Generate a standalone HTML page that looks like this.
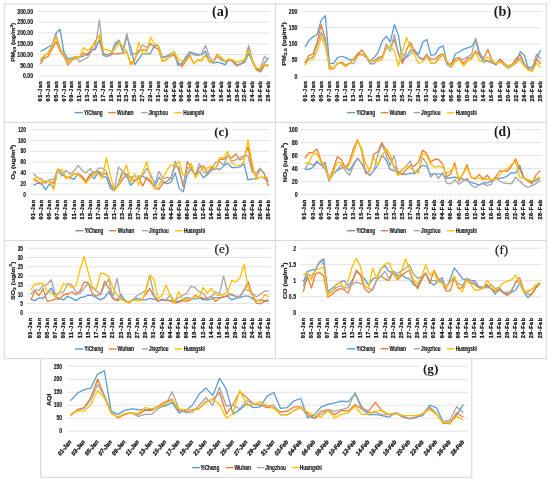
<!DOCTYPE html>
<html><head><meta charset="utf-8"><title>Figure</title>
<style>html,body{margin:0;padding:0;background:#fff;}svg{display:block;}</style></head>
<body><svg width="550" height="483" viewBox="0 0 550 483" font-family="'Liberation Sans', Arial, sans-serif" fill="#1a1a1a" stroke="#1a1a1a" stroke-width="0.18">
<rect width="550" height="483" fill="#fff" stroke="none"/>
<line x1="3.8" y1="4.0" x2="546.8" y2="4.0" stroke="#d6d6d6" stroke-width="1"/>
<line x1="3.8" y1="122.3" x2="546.8" y2="122.3" stroke="#d6d6d6" stroke-width="1"/>
<line x1="3.8" y1="240.6" x2="546.8" y2="240.6" stroke="#d6d6d6" stroke-width="1"/>
<line x1="3.8" y1="358.7" x2="546.8" y2="358.7" stroke="#d6d6d6" stroke-width="1"/>
<line x1="4.3" y1="4.0" x2="4.3" y2="358.7" stroke="#d6d6d6" stroke-width="1"/>
<line x1="275.4" y1="4.0" x2="275.4" y2="358.7" stroke="#d6d6d6" stroke-width="1"/>
<line x1="546.3" y1="4.0" x2="546.3" y2="358.7" stroke="#d6d6d6" stroke-width="1"/>
<line x1="40.6" y1="358.7" x2="40.6" y2="477.3" stroke="#d6d6d6" stroke-width="1"/>
<line x1="471.8" y1="358.7" x2="471.8" y2="477.3" stroke="#d6d6d6" stroke-width="1"/>
<line x1="40.1" y1="477.3" x2="472.3" y2="477.3" stroke="#d6d6d6" stroke-width="1"/>
<line x1="38" y1="76.10" x2="269.8" y2="76.10" stroke="#dcdcdc" stroke-width="0.8"/>
<line x1="38" y1="65.32" x2="269.8" y2="65.32" stroke="#dcdcdc" stroke-width="0.8"/>
<line x1="38" y1="54.53" x2="269.8" y2="54.53" stroke="#dcdcdc" stroke-width="0.8"/>
<line x1="38" y1="43.75" x2="269.8" y2="43.75" stroke="#dcdcdc" stroke-width="0.8"/>
<line x1="38" y1="32.97" x2="269.8" y2="32.97" stroke="#dcdcdc" stroke-width="0.8"/>
<line x1="38" y1="22.18" x2="269.8" y2="22.18" stroke="#dcdcdc" stroke-width="0.8"/>
<line x1="38" y1="11.40" x2="269.8" y2="11.40" stroke="#dcdcdc" stroke-width="0.8"/>
<rect x="209" y="5.300000000000001" width="21" height="13" fill="#fff" stroke="none"/>
<text x="33.0" y="78.30" text-anchor="end" font-size="6.4" font-weight="bold" textLength="9.97" lengthAdjust="spacingAndGlyphs">0.00</text>
<text x="33.0" y="67.52" text-anchor="end" font-size="6.4" font-weight="bold" textLength="12.82" lengthAdjust="spacingAndGlyphs">50.00</text>
<text x="33.0" y="56.73" text-anchor="end" font-size="6.4" font-weight="bold" textLength="15.68" lengthAdjust="spacingAndGlyphs">100.00</text>
<text x="33.0" y="45.95" text-anchor="end" font-size="6.4" font-weight="bold" textLength="15.68" lengthAdjust="spacingAndGlyphs">150.00</text>
<text x="33.0" y="35.17" text-anchor="end" font-size="6.4" font-weight="bold" textLength="15.68" lengthAdjust="spacingAndGlyphs">200.00</text>
<text x="33.0" y="24.38" text-anchor="end" font-size="6.4" font-weight="bold" textLength="15.68" lengthAdjust="spacingAndGlyphs">250.00</text>
<text x="33.0" y="13.60" text-anchor="end" font-size="6.4" font-weight="bold" textLength="15.68" lengthAdjust="spacingAndGlyphs">300.00</text>
<text transform="translate(42.00,81.2) rotate(-90)" text-anchor="end" font-size="5.4" font-weight="bold" stroke-width="0.32" textLength="20.2" lengthAdjust="spacing">01-Jan</text>
<text transform="translate(49.86,81.2) rotate(-90)" text-anchor="end" font-size="5.4" font-weight="bold" stroke-width="0.32" textLength="20.2" lengthAdjust="spacing">03-Jan</text>
<text transform="translate(57.72,81.2) rotate(-90)" text-anchor="end" font-size="5.4" font-weight="bold" stroke-width="0.32" textLength="20.2" lengthAdjust="spacing">05-Jan</text>
<text transform="translate(65.58,81.2) rotate(-90)" text-anchor="end" font-size="5.4" font-weight="bold" stroke-width="0.32" textLength="20.2" lengthAdjust="spacing">07-Jan</text>
<text transform="translate(73.44,81.2) rotate(-90)" text-anchor="end" font-size="5.4" font-weight="bold" stroke-width="0.32" textLength="20.2" lengthAdjust="spacing">09-Jan</text>
<text transform="translate(81.30,81.2) rotate(-90)" text-anchor="end" font-size="5.4" font-weight="bold" stroke-width="0.32" textLength="20.2" lengthAdjust="spacing">11-Jan</text>
<text transform="translate(89.16,81.2) rotate(-90)" text-anchor="end" font-size="5.4" font-weight="bold" stroke-width="0.32" textLength="20.2" lengthAdjust="spacing">13-Jan</text>
<text transform="translate(97.02,81.2) rotate(-90)" text-anchor="end" font-size="5.4" font-weight="bold" stroke-width="0.32" textLength="20.2" lengthAdjust="spacing">15-Jan</text>
<text transform="translate(104.88,81.2) rotate(-90)" text-anchor="end" font-size="5.4" font-weight="bold" stroke-width="0.32" textLength="20.2" lengthAdjust="spacing">17-Jan</text>
<text transform="translate(112.74,81.2) rotate(-90)" text-anchor="end" font-size="5.4" font-weight="bold" stroke-width="0.32" textLength="20.2" lengthAdjust="spacing">19-Jan</text>
<text transform="translate(120.60,81.2) rotate(-90)" text-anchor="end" font-size="5.4" font-weight="bold" stroke-width="0.32" textLength="20.2" lengthAdjust="spacing">21-Jan</text>
<text transform="translate(128.46,81.2) rotate(-90)" text-anchor="end" font-size="5.4" font-weight="bold" stroke-width="0.32" textLength="20.2" lengthAdjust="spacing">23-Jan</text>
<text transform="translate(136.32,81.2) rotate(-90)" text-anchor="end" font-size="5.4" font-weight="bold" stroke-width="0.32" textLength="20.2" lengthAdjust="spacing">25-Jan</text>
<text transform="translate(144.18,81.2) rotate(-90)" text-anchor="end" font-size="5.4" font-weight="bold" stroke-width="0.32" textLength="20.2" lengthAdjust="spacing">27-Jan</text>
<text transform="translate(152.04,81.2) rotate(-90)" text-anchor="end" font-size="5.4" font-weight="bold" stroke-width="0.32" textLength="20.2" lengthAdjust="spacing">29-Jan</text>
<text transform="translate(159.90,81.2) rotate(-90)" text-anchor="end" font-size="5.4" font-weight="bold" stroke-width="0.32" textLength="20.2" lengthAdjust="spacing">31-Jan</text>
<text transform="translate(167.76,81.2) rotate(-90)" text-anchor="end" font-size="5.4" font-weight="bold" stroke-width="0.32" textLength="20.2" lengthAdjust="spacing">02-Feb</text>
<text transform="translate(175.62,81.2) rotate(-90)" text-anchor="end" font-size="5.4" font-weight="bold" stroke-width="0.32" textLength="20.2" lengthAdjust="spacing">04-Feb</text>
<text transform="translate(183.48,81.2) rotate(-90)" text-anchor="end" font-size="5.4" font-weight="bold" stroke-width="0.32" textLength="20.2" lengthAdjust="spacing">06-Feb</text>
<text transform="translate(191.34,81.2) rotate(-90)" text-anchor="end" font-size="5.4" font-weight="bold" stroke-width="0.32" textLength="20.2" lengthAdjust="spacing">08-Feb</text>
<text transform="translate(199.20,81.2) rotate(-90)" text-anchor="end" font-size="5.4" font-weight="bold" stroke-width="0.32" textLength="20.2" lengthAdjust="spacing">10-Feb</text>
<text transform="translate(207.06,81.2) rotate(-90)" text-anchor="end" font-size="5.4" font-weight="bold" stroke-width="0.32" textLength="20.2" lengthAdjust="spacing">12-Feb</text>
<text transform="translate(214.92,81.2) rotate(-90)" text-anchor="end" font-size="5.4" font-weight="bold" stroke-width="0.32" textLength="20.2" lengthAdjust="spacing">14-Feb</text>
<text transform="translate(222.78,81.2) rotate(-90)" text-anchor="end" font-size="5.4" font-weight="bold" stroke-width="0.32" textLength="20.2" lengthAdjust="spacing">16-Feb</text>
<text transform="translate(230.64,81.2) rotate(-90)" text-anchor="end" font-size="5.4" font-weight="bold" stroke-width="0.32" textLength="20.2" lengthAdjust="spacing">18-Feb</text>
<text transform="translate(238.50,81.2) rotate(-90)" text-anchor="end" font-size="5.4" font-weight="bold" stroke-width="0.32" textLength="20.2" lengthAdjust="spacing">20-Feb</text>
<text transform="translate(246.36,81.2) rotate(-90)" text-anchor="end" font-size="5.4" font-weight="bold" stroke-width="0.32" textLength="20.2" lengthAdjust="spacing">22-Feb</text>
<text transform="translate(254.22,81.2) rotate(-90)" text-anchor="end" font-size="5.4" font-weight="bold" stroke-width="0.32" textLength="20.2" lengthAdjust="spacing">24-Feb</text>
<text transform="translate(262.08,81.2) rotate(-90)" text-anchor="end" font-size="5.4" font-weight="bold" stroke-width="0.32" textLength="20.2" lengthAdjust="spacing">26-Feb</text>
<text transform="translate(269.94,81.2) rotate(-90)" text-anchor="end" font-size="5.4" font-weight="bold" stroke-width="0.32" textLength="20.2" lengthAdjust="spacing">28-Feb</text>
<text transform="translate(15.1,42.3) rotate(-90)" text-anchor="middle" font-size="5.7" font-weight="bold" textLength="39" lengthAdjust="spacingAndGlyphs">PM<tspan font-size="4.2" dy="1.2">10</tspan><tspan dy="-1.2"> (ug/m</tspan><tspan font-size="4.2" dy="-2.2">3</tspan><tspan dy="2.2">)</tspan></text>
<polyline points="40.40,51.51 44.33,49.36 48.26,46.98 52.19,45.04 56.12,33.18 60.05,29.30 63.98,52.38 67.91,59.06 71.84,57.77 75.77,56.69 79.70,57.12 83.63,56.04 87.56,53.67 91.49,50.65 95.42,49.14 99.35,40.08 103.28,55.61 107.21,56.47 111.14,54.96 115.07,45.26 119.00,41.59 122.93,51.95 126.86,36.42 130.79,47.42 134.72,64.67 138.65,59.49 142.58,53.45 146.51,54.10 150.44,53.45 154.37,45.26 158.30,45.48 162.23,57.12 166.16,56.47 170.09,54.10 174.02,51.95 177.95,65.32 181.88,63.16 185.81,57.12 189.74,51.95 193.67,53.45 197.60,54.10 201.53,54.96 205.46,51.30 209.39,61.00 213.32,63.16 217.25,62.08 221.18,63.16 225.11,64.67 229.04,59.49 232.97,61.00 236.90,64.67 240.83,63.81 244.76,62.30 248.69,53.45 252.62,62.30 256.55,69.20 260.48,70.49 264.41,63.16 268.34,57.98" fill="none" stroke="#5B9BD5" stroke-width="1.3" stroke-linejoin="round"/>
<polyline points="40.40,63.81 44.33,57.77 48.26,56.47 52.19,48.71 56.12,41.59 60.05,51.08 63.98,56.47 67.91,64.89 71.84,60.14 75.77,58.42 79.70,57.12 83.63,53.02 87.56,55.40 91.49,48.71 95.42,41.16 99.35,35.55 103.28,53.45 107.21,54.96 111.14,53.45 115.07,54.10 119.00,53.45 122.93,53.24 126.86,51.95 130.79,63.81 134.72,59.49 138.65,50.44 142.58,49.79 146.51,50.44 150.44,43.10 154.37,47.42 158.30,48.93 162.23,61.00 166.16,59.49 170.09,56.47 174.02,54.96 177.95,61.65 181.88,66.83 185.81,61.00 189.74,54.96 193.67,63.16 197.60,60.14 201.53,60.14 205.46,54.96 209.39,61.65 213.32,61.00 217.25,54.10 221.18,58.63 225.11,61.00 229.04,59.49 232.97,61.65 236.90,65.32 240.83,63.81 244.76,60.14 248.69,48.28 252.62,61.00 256.55,69.85 260.48,72.00 264.41,65.32 268.34,64.67" fill="none" stroke="#ED7D31" stroke-width="1.3" stroke-linejoin="round"/>
<polyline points="40.40,61.43 44.33,56.04 48.26,52.38 52.19,45.26 56.12,35.12 60.05,47.63 63.98,54.75 67.91,60.79 71.84,58.42 75.77,57.12 79.70,61.87 83.63,59.49 87.56,57.77 91.49,51.08 95.42,46.98 99.35,20.03 103.28,53.45 107.21,56.47 111.14,53.45 115.07,43.10 119.00,40.08 122.93,50.44 126.86,33.40 130.79,54.96 134.72,53.45 138.65,52.81 142.58,44.83 146.51,47.42 150.44,44.61 154.37,45.91 158.30,45.91 162.23,57.98 166.16,57.12 170.09,54.96 174.02,51.95 177.95,63.16 181.88,64.67 185.81,59.49 189.74,52.81 193.67,54.96 197.60,55.61 201.53,54.10 205.46,45.26 209.39,56.47 213.32,62.30 217.25,56.47 221.18,60.14 225.11,61.65 229.04,59.49 232.97,62.30 236.90,66.18 240.83,63.81 244.76,61.00 248.69,45.26 252.62,61.00 256.55,68.34 260.48,68.34 264.41,56.47 268.34,59.49" fill="none" stroke="#A5A5A5" stroke-width="1.3" stroke-linejoin="round"/>
<polyline points="40.40,59.49 44.33,55.40 48.26,53.67 52.19,46.34 56.12,36.85 60.05,48.71 63.98,54.75 67.91,63.16 71.84,59.06 75.77,56.69 79.70,57.12 83.63,47.63 87.56,50.65 91.49,46.98 95.42,43.75 99.35,34.48 103.28,48.93 107.21,49.79 111.14,51.30 115.07,49.79 119.00,42.24 122.93,46.77 126.86,51.95 130.79,65.32 134.72,61.00 138.65,42.24 142.58,53.45 146.51,52.81 150.44,37.06 154.37,43.75 158.30,45.91 162.23,61.65 166.16,60.14 170.09,55.61 174.02,51.30 177.95,58.63 181.88,61.00 185.81,61.65 189.74,56.47 193.67,63.81 197.60,60.14 201.53,61.00 205.46,54.96 209.39,62.30 213.32,61.65 217.25,54.96 221.18,57.12 225.11,61.65 229.04,58.63 232.97,60.14 236.90,62.08 240.83,61.00 244.76,58.63 248.69,50.44 252.62,61.65 256.55,68.34 260.48,68.34 264.41,63.81 268.34,66.83" fill="none" stroke="#FFC000" stroke-width="1.3" stroke-linejoin="round"/>
<line x1="74.6" y1="112.6" x2="82.7" y2="112.6" stroke="#5B9BD5" stroke-width="1.4"/>
<text x="84" y="114.90" font-size="6.6" font-weight="bold" textLength="18.60" lengthAdjust="spacingAndGlyphs">YiChang</text>
<line x1="108.2" y1="112.6" x2="115.8" y2="112.6" stroke="#ED7D31" stroke-width="1.4"/>
<text x="117" y="114.90" font-size="6.6" font-weight="bold" textLength="16.60" lengthAdjust="spacingAndGlyphs">Wuhan</text>
<line x1="141.2" y1="112.6" x2="147.6" y2="112.6" stroke="#A5A5A5" stroke-width="1.4"/>
<text x="148.4" y="114.90" font-size="6.6" font-weight="bold" textLength="19.60" lengthAdjust="spacingAndGlyphs">Jingzhou</text>
<line x1="174.3" y1="112.6" x2="182" y2="112.6" stroke="#FFC000" stroke-width="1.4"/>
<text x="183.2" y="114.90" font-size="6.6" font-weight="bold" textLength="21.20" lengthAdjust="spacingAndGlyphs">Huangshi</text>
<text x="220.2" y="16.3" text-anchor="middle" font-family="'Liberation Serif', 'Times New Roman', serif" font-size="14.2" font-weight="bold" stroke="none" stroke-width="0.22">(a)</text>
<line x1="302.2" y1="76.40" x2="541.8" y2="76.40" stroke="#dcdcdc" stroke-width="0.8"/>
<line x1="302.2" y1="60.15" x2="541.8" y2="60.15" stroke="#dcdcdc" stroke-width="0.8"/>
<line x1="302.2" y1="43.90" x2="541.8" y2="43.90" stroke="#dcdcdc" stroke-width="0.8"/>
<line x1="302.2" y1="27.65" x2="541.8" y2="27.65" stroke="#dcdcdc" stroke-width="0.8"/>
<line x1="302.2" y1="11.40" x2="541.8" y2="11.40" stroke="#dcdcdc" stroke-width="0.8"/>
<rect x="490.7" y="5.300000000000001" width="21.80000000000001" height="13" fill="#fff" stroke="none"/>
<text x="297.4" y="78.60" text-anchor="end" font-size="6.4" font-weight="bold" textLength="2.87" lengthAdjust="spacingAndGlyphs">0</text>
<text x="297.4" y="62.35" text-anchor="end" font-size="6.4" font-weight="bold" textLength="5.74" lengthAdjust="spacingAndGlyphs">50</text>
<text x="297.4" y="46.10" text-anchor="end" font-size="6.4" font-weight="bold" textLength="8.61" lengthAdjust="spacingAndGlyphs">100</text>
<text x="297.4" y="29.85" text-anchor="end" font-size="6.4" font-weight="bold" textLength="8.61" lengthAdjust="spacingAndGlyphs">150</text>
<text x="297.4" y="13.60" text-anchor="end" font-size="6.4" font-weight="bold" textLength="8.61" lengthAdjust="spacingAndGlyphs">200</text>
<text transform="translate(306.60,81.1) rotate(-90)" text-anchor="end" font-size="5.4" font-weight="bold" stroke-width="0.32" textLength="20.4" lengthAdjust="spacing">01-Jan</text>
<text transform="translate(314.72,81.1) rotate(-90)" text-anchor="end" font-size="5.4" font-weight="bold" stroke-width="0.32" textLength="20.4" lengthAdjust="spacing">03-Jan</text>
<text transform="translate(322.85,81.1) rotate(-90)" text-anchor="end" font-size="5.4" font-weight="bold" stroke-width="0.32" textLength="20.4" lengthAdjust="spacing">05-Jan</text>
<text transform="translate(330.97,81.1) rotate(-90)" text-anchor="end" font-size="5.4" font-weight="bold" stroke-width="0.32" textLength="20.4" lengthAdjust="spacing">07-Jan</text>
<text transform="translate(339.10,81.1) rotate(-90)" text-anchor="end" font-size="5.4" font-weight="bold" stroke-width="0.32" textLength="20.4" lengthAdjust="spacing">09-Jan</text>
<text transform="translate(347.22,81.1) rotate(-90)" text-anchor="end" font-size="5.4" font-weight="bold" stroke-width="0.32" textLength="20.4" lengthAdjust="spacing">11-Jan</text>
<text transform="translate(355.34,81.1) rotate(-90)" text-anchor="end" font-size="5.4" font-weight="bold" stroke-width="0.32" textLength="20.4" lengthAdjust="spacing">13-Jan</text>
<text transform="translate(363.47,81.1) rotate(-90)" text-anchor="end" font-size="5.4" font-weight="bold" stroke-width="0.32" textLength="20.4" lengthAdjust="spacing">15-Jan</text>
<text transform="translate(371.59,81.1) rotate(-90)" text-anchor="end" font-size="5.4" font-weight="bold" stroke-width="0.32" textLength="20.4" lengthAdjust="spacing">17-Jan</text>
<text transform="translate(379.72,81.1) rotate(-90)" text-anchor="end" font-size="5.4" font-weight="bold" stroke-width="0.32" textLength="20.4" lengthAdjust="spacing">19-Jan</text>
<text transform="translate(387.84,81.1) rotate(-90)" text-anchor="end" font-size="5.4" font-weight="bold" stroke-width="0.32" textLength="20.4" lengthAdjust="spacing">21-Jan</text>
<text transform="translate(395.97,81.1) rotate(-90)" text-anchor="end" font-size="5.4" font-weight="bold" stroke-width="0.32" textLength="20.4" lengthAdjust="spacing">23-Jan</text>
<text transform="translate(404.09,81.1) rotate(-90)" text-anchor="end" font-size="5.4" font-weight="bold" stroke-width="0.32" textLength="20.4" lengthAdjust="spacing">25-Jan</text>
<text transform="translate(412.21,81.1) rotate(-90)" text-anchor="end" font-size="5.4" font-weight="bold" stroke-width="0.32" textLength="20.4" lengthAdjust="spacing">27-Jan</text>
<text transform="translate(420.34,81.1) rotate(-90)" text-anchor="end" font-size="5.4" font-weight="bold" stroke-width="0.32" textLength="20.4" lengthAdjust="spacing">29-Jan</text>
<text transform="translate(428.46,81.1) rotate(-90)" text-anchor="end" font-size="5.4" font-weight="bold" stroke-width="0.32" textLength="20.4" lengthAdjust="spacing">31-Jan</text>
<text transform="translate(436.59,81.1) rotate(-90)" text-anchor="end" font-size="5.4" font-weight="bold" stroke-width="0.32" textLength="20.4" lengthAdjust="spacing">02-Feb</text>
<text transform="translate(444.71,81.1) rotate(-90)" text-anchor="end" font-size="5.4" font-weight="bold" stroke-width="0.32" textLength="20.4" lengthAdjust="spacing">04-Feb</text>
<text transform="translate(452.83,81.1) rotate(-90)" text-anchor="end" font-size="5.4" font-weight="bold" stroke-width="0.32" textLength="20.4" lengthAdjust="spacing">06-Feb</text>
<text transform="translate(460.96,81.1) rotate(-90)" text-anchor="end" font-size="5.4" font-weight="bold" stroke-width="0.32" textLength="20.4" lengthAdjust="spacing">08-Feb</text>
<text transform="translate(469.08,81.1) rotate(-90)" text-anchor="end" font-size="5.4" font-weight="bold" stroke-width="0.32" textLength="20.4" lengthAdjust="spacing">10-Feb</text>
<text transform="translate(477.21,81.1) rotate(-90)" text-anchor="end" font-size="5.4" font-weight="bold" stroke-width="0.32" textLength="20.4" lengthAdjust="spacing">12-Feb</text>
<text transform="translate(485.33,81.1) rotate(-90)" text-anchor="end" font-size="5.4" font-weight="bold" stroke-width="0.32" textLength="20.4" lengthAdjust="spacing">14-Feb</text>
<text transform="translate(493.46,81.1) rotate(-90)" text-anchor="end" font-size="5.4" font-weight="bold" stroke-width="0.32" textLength="20.4" lengthAdjust="spacing">16-Feb</text>
<text transform="translate(501.58,81.1) rotate(-90)" text-anchor="end" font-size="5.4" font-weight="bold" stroke-width="0.32" textLength="20.4" lengthAdjust="spacing">18-Feb</text>
<text transform="translate(509.70,81.1) rotate(-90)" text-anchor="end" font-size="5.4" font-weight="bold" stroke-width="0.32" textLength="20.4" lengthAdjust="spacing">20-Feb</text>
<text transform="translate(517.83,81.1) rotate(-90)" text-anchor="end" font-size="5.4" font-weight="bold" stroke-width="0.32" textLength="20.4" lengthAdjust="spacing">22-Feb</text>
<text transform="translate(525.95,81.1) rotate(-90)" text-anchor="end" font-size="5.4" font-weight="bold" stroke-width="0.32" textLength="20.4" lengthAdjust="spacing">24-Feb</text>
<text transform="translate(534.08,81.1) rotate(-90)" text-anchor="end" font-size="5.4" font-weight="bold" stroke-width="0.32" textLength="20.4" lengthAdjust="spacing">26-Feb</text>
<text transform="translate(542.20,81.1) rotate(-90)" text-anchor="end" font-size="5.4" font-weight="bold" stroke-width="0.32" textLength="20.4" lengthAdjust="spacing">28-Feb</text>
<text transform="translate(286,44) rotate(-90)" text-anchor="middle" font-size="5.7" font-weight="bold" textLength="43.5" lengthAdjust="spacingAndGlyphs">PM<tspan font-size="4.2" dy="1.2">2.5</tspan><tspan dy="-1.2"> (ug/m</tspan><tspan font-size="4.2" dy="-2.2">3</tspan><tspan dy="2.2">)</tspan></text>
<polyline points="305.00,47.15 309.06,40.33 313.12,36.75 317.19,34.48 321.25,20.18 325.31,15.63 329.37,63.08 333.43,63.73 337.50,57.55 341.56,56.25 345.62,57.55 349.68,59.83 353.74,59.83 357.81,53.33 361.87,54.62 365.93,56.90 369.99,61.45 374.06,57.55 378.12,52.35 382.18,41.30 386.24,36.10 390.30,41.95 394.37,24.73 398.43,35.13 402.49,61.45 406.55,56.25 410.61,50.08 414.68,51.05 418.74,53.98 422.80,41.95 426.86,39.68 430.92,55.28 434.99,54.62 439.05,47.80 443.11,45.85 447.17,63.73 451.23,65.03 455.30,53.98 459.36,51.70 463.42,49.43 467.48,47.80 471.54,46.50 475.61,40.33 479.67,55.28 483.73,62.10 487.79,60.80 491.86,62.10 495.92,65.03 499.98,59.18 504.04,63.73 508.10,66.65 512.17,65.03 516.23,62.10 520.29,51.70 524.35,55.28 528.41,68.28 532.48,66.65 536.54,59.18 540.60,50.08" fill="none" stroke="#5B9BD5" stroke-width="1.3" stroke-linejoin="round"/>
<polyline points="305.00,63.08 309.06,55.28 313.12,53.98 317.19,41.95 321.25,24.73 325.31,39.03 329.37,68.93 333.43,68.93 337.50,63.73 341.56,62.10 345.62,65.03 349.68,63.08 353.74,58.53 357.81,53.98 361.87,50.08 365.93,55.28 369.99,62.10 374.06,60.80 378.12,57.55 382.18,56.25 386.24,47.80 390.30,46.50 394.37,39.68 398.43,53.98 402.49,63.73 406.55,49.43 410.61,42.60 414.68,52.35 418.74,56.90 422.80,59.18 426.86,55.28 430.92,59.18 434.99,59.18 439.05,55.28 443.11,53.98 447.17,62.10 451.23,64.38 455.30,58.53 459.36,57.55 463.42,63.73 467.48,58.53 471.54,57.55 475.61,51.05 479.67,55.28 483.73,58.53 487.79,49.43 491.86,59.83 495.92,64.38 499.98,59.18 504.04,63.08 508.10,66.00 512.17,64.38 516.23,58.53 520.29,54.62 524.35,63.73 528.41,69.58 532.48,71.20 536.54,59.18 540.60,63.73" fill="none" stroke="#ED7D31" stroke-width="1.3" stroke-linejoin="round"/>
<polyline points="305.00,64.38 309.06,58.53 313.12,56.90 317.19,44.88 321.25,32.20 325.31,41.95 329.37,65.03 333.43,68.93 337.50,63.08 341.56,63.08 345.62,66.65 349.68,63.08 353.74,63.73 357.81,55.28 361.87,53.98 365.93,56.90 369.99,63.73 374.06,63.73 378.12,59.18 382.18,57.55 386.24,44.23 390.30,51.70 394.37,34.48 398.43,53.98 402.49,53.98 406.55,57.55 410.61,53.98 414.68,49.43 418.74,57.55 422.80,59.83 426.86,53.98 430.92,63.08 434.99,63.08 439.05,57.55 443.11,54.62 447.17,65.03 451.23,67.30 455.30,61.45 459.36,59.18 463.42,59.18 467.48,56.90 471.54,54.62 475.61,38.05 479.67,52.35 483.73,59.83 487.79,61.45 491.86,63.08 495.92,63.73 499.98,62.10 504.04,65.03 508.10,68.28 512.17,66.00 516.23,63.08 520.29,57.55 524.35,65.03 528.41,68.93 532.48,68.93 536.54,53.98 540.60,59.18" fill="none" stroke="#A5A5A5" stroke-width="1.3" stroke-linejoin="round"/>
<polyline points="305.00,65.03 309.06,59.18 313.12,59.18 317.19,51.05 321.25,36.75 325.31,46.50 329.37,66.00 333.43,68.93 337.50,63.08 341.56,63.73 345.62,66.00 349.68,63.73 353.74,59.18 357.81,56.25 361.87,53.98 365.93,55.60 369.99,61.45 374.06,61.45 378.12,61.45 382.18,59.18 386.24,48.78 390.30,45.85 394.37,51.05 398.43,66.00 402.49,51.05 406.55,37.40 410.61,47.15 414.68,55.28 418.74,63.73 422.80,61.45 426.86,56.90 430.92,63.08 434.99,63.73 439.05,59.18 443.11,54.62 447.17,61.45 451.23,66.00 455.30,60.80 459.36,59.83 463.42,66.00 467.48,61.45 471.54,59.18 475.61,52.35 479.67,60.80 483.73,62.10 487.79,56.90 491.86,61.45 495.92,63.08 499.98,62.10 504.04,63.73 508.10,66.65 512.17,65.03 516.23,61.45 520.29,60.80 524.35,66.00 528.41,70.55 532.48,70.55 536.54,63.08 540.60,67.30" fill="none" stroke="#FFC000" stroke-width="1.3" stroke-linejoin="round"/>
<line x1="347.1" y1="112.6" x2="355.2" y2="112.6" stroke="#5B9BD5" stroke-width="1.4"/>
<text x="356.5" y="114.90" font-size="6.6" font-weight="bold" textLength="18.60" lengthAdjust="spacingAndGlyphs">YiChang</text>
<line x1="380.7" y1="112.6" x2="388.3" y2="112.6" stroke="#ED7D31" stroke-width="1.4"/>
<text x="389.5" y="114.90" font-size="6.6" font-weight="bold" textLength="16.60" lengthAdjust="spacingAndGlyphs">Wuhan</text>
<line x1="413.7" y1="112.6" x2="420.1" y2="112.6" stroke="#A5A5A5" stroke-width="1.4"/>
<text x="420.9" y="114.90" font-size="6.6" font-weight="bold" textLength="19.60" lengthAdjust="spacingAndGlyphs">Jingzhou</text>
<line x1="446.8" y1="112.6" x2="454.5" y2="112.6" stroke="#FFC000" stroke-width="1.4"/>
<text x="455.7" y="114.90" font-size="6.6" font-weight="bold" textLength="21.20" lengthAdjust="spacingAndGlyphs">Huangshi</text>
<text x="502.5" y="16.3" text-anchor="middle" font-family="'Liberation Serif', 'Times New Roman', serif" font-size="14.2" font-weight="bold" stroke="none" stroke-width="0.22">(b)</text>
<line x1="31" y1="194.60" x2="269.8" y2="194.60" stroke="#dcdcdc" stroke-width="0.8"/>
<line x1="31" y1="183.77" x2="269.8" y2="183.77" stroke="#dcdcdc" stroke-width="0.8"/>
<line x1="31" y1="172.93" x2="269.8" y2="172.93" stroke="#dcdcdc" stroke-width="0.8"/>
<line x1="31" y1="162.10" x2="269.8" y2="162.10" stroke="#dcdcdc" stroke-width="0.8"/>
<line x1="31" y1="151.27" x2="269.8" y2="151.27" stroke="#dcdcdc" stroke-width="0.8"/>
<line x1="31" y1="140.43" x2="269.8" y2="140.43" stroke="#dcdcdc" stroke-width="0.8"/>
<line x1="31" y1="129.60" x2="269.8" y2="129.60" stroke="#dcdcdc" stroke-width="0.8"/>
<rect x="210" y="125.4" width="22" height="13" fill="#fff" stroke="none"/>
<text x="26.0" y="196.80" text-anchor="end" font-size="6.4" font-weight="bold" textLength="2.70" lengthAdjust="spacingAndGlyphs">0</text>
<text x="26.0" y="185.97" text-anchor="end" font-size="6.4" font-weight="bold" textLength="5.40" lengthAdjust="spacingAndGlyphs">20</text>
<text x="26.0" y="175.13" text-anchor="end" font-size="6.4" font-weight="bold" textLength="5.40" lengthAdjust="spacingAndGlyphs">40</text>
<text x="26.0" y="164.30" text-anchor="end" font-size="6.4" font-weight="bold" textLength="5.40" lengthAdjust="spacingAndGlyphs">60</text>
<text x="26.0" y="153.47" text-anchor="end" font-size="6.4" font-weight="bold" textLength="5.40" lengthAdjust="spacingAndGlyphs">80</text>
<text x="26.0" y="142.63" text-anchor="end" font-size="6.4" font-weight="bold" textLength="8.10" lengthAdjust="spacingAndGlyphs">100</text>
<text x="26.0" y="131.80" text-anchor="end" font-size="6.4" font-weight="bold" textLength="8.10" lengthAdjust="spacingAndGlyphs">120</text>
<text transform="translate(35.10,200) rotate(-90)" text-anchor="end" font-size="5.4" font-weight="bold" stroke-width="0.32" textLength="19.6" lengthAdjust="spacing">01-Jan</text>
<text transform="translate(43.19,200) rotate(-90)" text-anchor="end" font-size="5.4" font-weight="bold" stroke-width="0.32" textLength="19.6" lengthAdjust="spacing">03-Jan</text>
<text transform="translate(51.29,200) rotate(-90)" text-anchor="end" font-size="5.4" font-weight="bold" stroke-width="0.32" textLength="19.6" lengthAdjust="spacing">05-Jan</text>
<text transform="translate(59.38,200) rotate(-90)" text-anchor="end" font-size="5.4" font-weight="bold" stroke-width="0.32" textLength="19.6" lengthAdjust="spacing">07-Jan</text>
<text transform="translate(67.47,200) rotate(-90)" text-anchor="end" font-size="5.4" font-weight="bold" stroke-width="0.32" textLength="19.6" lengthAdjust="spacing">09-Jan</text>
<text transform="translate(75.57,200) rotate(-90)" text-anchor="end" font-size="5.4" font-weight="bold" stroke-width="0.32" textLength="19.6" lengthAdjust="spacing">11-Jan</text>
<text transform="translate(83.66,200) rotate(-90)" text-anchor="end" font-size="5.4" font-weight="bold" stroke-width="0.32" textLength="19.6" lengthAdjust="spacing">13-Jan</text>
<text transform="translate(91.75,200) rotate(-90)" text-anchor="end" font-size="5.4" font-weight="bold" stroke-width="0.32" textLength="19.6" lengthAdjust="spacing">15-Jan</text>
<text transform="translate(99.84,200) rotate(-90)" text-anchor="end" font-size="5.4" font-weight="bold" stroke-width="0.32" textLength="19.6" lengthAdjust="spacing">17-Jan</text>
<text transform="translate(107.94,200) rotate(-90)" text-anchor="end" font-size="5.4" font-weight="bold" stroke-width="0.32" textLength="19.6" lengthAdjust="spacing">19-Jan</text>
<text transform="translate(116.03,200) rotate(-90)" text-anchor="end" font-size="5.4" font-weight="bold" stroke-width="0.32" textLength="19.6" lengthAdjust="spacing">21-Jan</text>
<text transform="translate(124.12,200) rotate(-90)" text-anchor="end" font-size="5.4" font-weight="bold" stroke-width="0.32" textLength="19.6" lengthAdjust="spacing">23-Jan</text>
<text transform="translate(132.22,200) rotate(-90)" text-anchor="end" font-size="5.4" font-weight="bold" stroke-width="0.32" textLength="19.6" lengthAdjust="spacing">25-Jan</text>
<text transform="translate(140.31,200) rotate(-90)" text-anchor="end" font-size="5.4" font-weight="bold" stroke-width="0.32" textLength="19.6" lengthAdjust="spacing">27-Jan</text>
<text transform="translate(148.40,200) rotate(-90)" text-anchor="end" font-size="5.4" font-weight="bold" stroke-width="0.32" textLength="19.6" lengthAdjust="spacing">29-Jan</text>
<text transform="translate(156.50,200) rotate(-90)" text-anchor="end" font-size="5.4" font-weight="bold" stroke-width="0.32" textLength="19.6" lengthAdjust="spacing">31-Jan</text>
<text transform="translate(164.59,200) rotate(-90)" text-anchor="end" font-size="5.4" font-weight="bold" stroke-width="0.32" textLength="19.6" lengthAdjust="spacing">02-Feb</text>
<text transform="translate(172.68,200) rotate(-90)" text-anchor="end" font-size="5.4" font-weight="bold" stroke-width="0.32" textLength="19.6" lengthAdjust="spacing">04-Feb</text>
<text transform="translate(180.78,200) rotate(-90)" text-anchor="end" font-size="5.4" font-weight="bold" stroke-width="0.32" textLength="19.6" lengthAdjust="spacing">06-Feb</text>
<text transform="translate(188.87,200) rotate(-90)" text-anchor="end" font-size="5.4" font-weight="bold" stroke-width="0.32" textLength="19.6" lengthAdjust="spacing">08-Feb</text>
<text transform="translate(196.96,200) rotate(-90)" text-anchor="end" font-size="5.4" font-weight="bold" stroke-width="0.32" textLength="19.6" lengthAdjust="spacing">10-Feb</text>
<text transform="translate(205.06,200) rotate(-90)" text-anchor="end" font-size="5.4" font-weight="bold" stroke-width="0.32" textLength="19.6" lengthAdjust="spacing">12-Feb</text>
<text transform="translate(213.15,200) rotate(-90)" text-anchor="end" font-size="5.4" font-weight="bold" stroke-width="0.32" textLength="19.6" lengthAdjust="spacing">14-Feb</text>
<text transform="translate(221.24,200) rotate(-90)" text-anchor="end" font-size="5.4" font-weight="bold" stroke-width="0.32" textLength="19.6" lengthAdjust="spacing">16-Feb</text>
<text transform="translate(229.33,200) rotate(-90)" text-anchor="end" font-size="5.4" font-weight="bold" stroke-width="0.32" textLength="19.6" lengthAdjust="spacing">18-Feb</text>
<text transform="translate(237.43,200) rotate(-90)" text-anchor="end" font-size="5.4" font-weight="bold" stroke-width="0.32" textLength="19.6" lengthAdjust="spacing">20-Feb</text>
<text transform="translate(245.52,200) rotate(-90)" text-anchor="end" font-size="5.4" font-weight="bold" stroke-width="0.32" textLength="19.6" lengthAdjust="spacing">22-Feb</text>
<text transform="translate(253.61,200) rotate(-90)" text-anchor="end" font-size="5.4" font-weight="bold" stroke-width="0.32" textLength="19.6" lengthAdjust="spacing">24-Feb</text>
<text transform="translate(261.71,200) rotate(-90)" text-anchor="end" font-size="5.4" font-weight="bold" stroke-width="0.32" textLength="19.6" lengthAdjust="spacing">26-Feb</text>
<text transform="translate(269.80,200) rotate(-90)" text-anchor="end" font-size="5.4" font-weight="bold" stroke-width="0.32" textLength="19.6" lengthAdjust="spacing">28-Feb</text>
<text transform="translate(15,162) rotate(-90)" text-anchor="middle" font-size="5.7" font-weight="bold" textLength="35" lengthAdjust="spacingAndGlyphs">O<tspan font-size="4.2" dy="1.2">3</tspan><tspan dy="-1.2"> (ug/m</tspan><tspan font-size="4.2" dy="-2.2">3</tspan><tspan dy="2.2">)</tspan></text>
<polyline points="33.50,185.39 37.55,183.22 41.59,183.77 45.64,189.72 49.69,183.77 53.73,187.56 57.78,169.68 61.83,174.02 65.87,177.27 69.92,177.81 73.97,179.43 78.01,174.02 82.06,177.27 86.11,181.06 90.15,174.02 94.20,178.89 98.24,171.85 102.29,176.18 106.34,177.27 110.38,188.10 114.43,190.81 118.48,183.22 122.52,171.31 126.57,175.10 130.62,185.39 134.66,181.06 138.71,177.81 142.76,176.18 146.80,178.89 150.85,181.60 154.90,185.93 158.94,177.27 162.99,181.60 167.04,183.77 171.08,182.14 175.13,172.93 179.18,188.10 183.22,191.89 187.27,174.02 191.32,169.68 195.36,175.10 199.41,171.31 203.46,177.81 207.50,174.02 211.55,170.22 215.59,168.06 219.64,169.68 223.69,165.89 227.73,163.18 231.78,167.52 235.83,167.52 239.87,166.97 243.92,163.72 247.97,179.97 252.01,178.89 256.06,178.89 260.11,177.27 264.15,177.81 268.20,181.06" fill="none" stroke="#5B9BD5" stroke-width="1.3" stroke-linejoin="round"/>
<polyline points="33.50,178.89 37.55,181.60 41.59,183.77 45.64,181.06 49.69,181.60 53.73,183.22 57.78,169.14 61.83,170.22 65.87,177.27 69.92,177.27 73.97,174.02 78.01,173.47 82.06,176.18 86.11,181.60 90.15,175.10 94.20,171.85 98.24,171.31 102.29,174.02 106.34,173.47 110.38,183.77 114.43,189.72 118.48,185.39 122.52,179.43 126.57,174.02 130.62,177.27 134.66,181.06 138.71,177.81 142.76,185.93 146.80,177.27 150.85,182.68 154.90,188.10 158.94,189.18 162.99,183.22 167.04,181.60 171.08,177.27 175.13,165.89 179.18,167.52 183.22,187.02 187.27,161.56 191.32,167.52 195.36,175.10 199.41,167.52 203.46,165.89 207.50,172.93 211.55,167.52 215.59,169.14 219.64,159.39 223.69,159.39 227.73,156.14 231.78,157.77 235.83,153.97 239.87,159.93 243.92,157.77 247.97,146.93 252.01,167.52 256.06,177.27 260.11,169.14 264.15,173.47 268.20,185.93" fill="none" stroke="#ED7D31" stroke-width="1.3" stroke-linejoin="round"/>
<polyline points="33.50,173.47 37.55,177.81 41.59,178.89 45.64,183.22 49.69,179.43 53.73,179.97 57.78,169.14 61.83,176.18 65.87,170.22 69.92,174.02 73.97,171.31 78.01,165.35 82.06,170.22 86.11,172.93 90.15,168.60 94.20,175.10 98.24,168.06 102.29,168.06 106.34,171.31 110.38,185.39 114.43,189.72 118.48,166.97 122.52,171.31 126.57,177.27 130.62,177.27 134.66,176.18 138.71,176.18 142.76,175.10 146.80,168.06 150.85,175.10 154.90,183.77 158.94,171.31 162.99,178.89 167.04,177.27 171.08,178.89 175.13,161.02 179.18,171.85 183.22,184.85 187.27,167.52 191.32,169.14 195.36,175.10 199.41,163.72 203.46,171.31 207.50,175.10 211.55,169.14 215.59,162.10 219.64,161.56 223.69,165.35 227.73,155.06 231.78,161.02 235.83,159.93 239.87,157.77 243.92,155.60 247.97,155.60 252.01,171.85 256.06,173.47 260.11,168.06 264.15,173.47 268.20,181.60" fill="none" stroke="#A5A5A5" stroke-width="1.3" stroke-linejoin="round"/>
<polyline points="33.50,178.89 37.55,177.27 41.59,181.60 45.64,181.60 49.69,181.06 53.73,189.72 57.78,169.68 61.83,169.68 65.87,178.89 69.92,176.18 73.97,173.47 78.01,174.02 82.06,178.89 86.11,183.22 90.15,177.81 94.20,173.47 98.24,173.47 102.29,178.89 106.34,157.77 110.38,175.10 114.43,190.81 118.48,185.39 122.52,175.10 126.57,164.81 130.62,182.14 134.66,174.02 138.71,185.39 142.76,171.85 146.80,161.56 150.85,179.43 154.90,189.18 158.94,185.39 162.99,177.27 167.04,170.22 171.08,164.81 175.13,165.35 179.18,161.56 183.22,175.10 187.27,173.47 191.32,163.18 195.36,177.81 199.41,171.85 203.46,167.52 207.50,168.06 211.55,165.89 215.59,169.14 219.64,157.77 223.69,157.77 227.73,151.27 231.78,163.18 235.83,164.81 239.87,165.35 243.92,161.56 247.97,139.89 252.01,161.56 256.06,179.43 260.11,177.27 264.15,177.27 268.20,177.81" fill="none" stroke="#FFC000" stroke-width="1.3" stroke-linejoin="round"/>
<line x1="75.3" y1="230.7" x2="83.4" y2="230.7" stroke="#5B9BD5" stroke-width="1.4"/>
<text x="84.7" y="233.00" font-size="6.6" font-weight="bold" textLength="18.60" lengthAdjust="spacingAndGlyphs">YiChang</text>
<line x1="108.9" y1="230.7" x2="116.5" y2="230.7" stroke="#ED7D31" stroke-width="1.4"/>
<text x="117.7" y="233.00" font-size="6.6" font-weight="bold" textLength="16.60" lengthAdjust="spacingAndGlyphs">Wuhan</text>
<line x1="141.89999999999998" y1="230.7" x2="148.29999999999998" y2="230.7" stroke="#A5A5A5" stroke-width="1.4"/>
<text x="149.1" y="233.00" font-size="6.6" font-weight="bold" textLength="19.60" lengthAdjust="spacingAndGlyphs">Jingzhou</text>
<line x1="175.0" y1="230.7" x2="182.7" y2="230.7" stroke="#FFC000" stroke-width="1.4"/>
<text x="183.89999999999998" y="233.00" font-size="6.6" font-weight="bold" textLength="21.20" lengthAdjust="spacingAndGlyphs">Huangshi</text>
<text x="221.3" y="136.4" text-anchor="middle" font-family="'Liberation Serif', 'Times New Roman', serif" font-size="12.8" font-weight="bold" stroke="none" stroke-width="0.22">(c)</text>
<line x1="301" y1="194.70" x2="541.8" y2="194.70" stroke="#dcdcdc" stroke-width="0.8"/>
<line x1="301" y1="181.67" x2="541.8" y2="181.67" stroke="#dcdcdc" stroke-width="0.8"/>
<line x1="301" y1="168.64" x2="541.8" y2="168.64" stroke="#dcdcdc" stroke-width="0.8"/>
<line x1="301" y1="155.61" x2="541.8" y2="155.61" stroke="#dcdcdc" stroke-width="0.8"/>
<line x1="301" y1="142.58" x2="541.8" y2="142.58" stroke="#dcdcdc" stroke-width="0.8"/>
<line x1="301" y1="129.55" x2="541.8" y2="129.55" stroke="#dcdcdc" stroke-width="0.8"/>
<rect x="491" y="125.4" width="23" height="13" fill="#fff" stroke="none"/>
<text x="297.8" y="196.90" text-anchor="end" font-size="6.4" font-weight="bold" textLength="2.97" lengthAdjust="spacingAndGlyphs">0</text>
<text x="297.8" y="183.87" text-anchor="end" font-size="6.4" font-weight="bold" textLength="5.94" lengthAdjust="spacingAndGlyphs">20</text>
<text x="297.8" y="170.84" text-anchor="end" font-size="6.4" font-weight="bold" textLength="5.94" lengthAdjust="spacingAndGlyphs">40</text>
<text x="297.8" y="157.81" text-anchor="end" font-size="6.4" font-weight="bold" textLength="5.94" lengthAdjust="spacingAndGlyphs">60</text>
<text x="297.8" y="144.78" text-anchor="end" font-size="6.4" font-weight="bold" textLength="5.94" lengthAdjust="spacingAndGlyphs">80</text>
<text x="297.8" y="131.75" text-anchor="end" font-size="6.4" font-weight="bold" textLength="8.91" lengthAdjust="spacingAndGlyphs">100</text>
<text transform="translate(306.40,199.6) rotate(-90)" text-anchor="end" font-size="5.4" font-weight="bold" stroke-width="0.32" textLength="19.8" lengthAdjust="spacing">01-Jan</text>
<text transform="translate(314.51,199.6) rotate(-90)" text-anchor="end" font-size="5.4" font-weight="bold" stroke-width="0.32" textLength="19.8" lengthAdjust="spacing">03-Jan</text>
<text transform="translate(322.62,199.6) rotate(-90)" text-anchor="end" font-size="5.4" font-weight="bold" stroke-width="0.32" textLength="19.8" lengthAdjust="spacing">05-Jan</text>
<text transform="translate(330.73,199.6) rotate(-90)" text-anchor="end" font-size="5.4" font-weight="bold" stroke-width="0.32" textLength="19.8" lengthAdjust="spacing">07-Jan</text>
<text transform="translate(338.84,199.6) rotate(-90)" text-anchor="end" font-size="5.4" font-weight="bold" stroke-width="0.32" textLength="19.8" lengthAdjust="spacing">09-Jan</text>
<text transform="translate(346.95,199.6) rotate(-90)" text-anchor="end" font-size="5.4" font-weight="bold" stroke-width="0.32" textLength="19.8" lengthAdjust="spacing">11-Jan</text>
<text transform="translate(355.06,199.6) rotate(-90)" text-anchor="end" font-size="5.4" font-weight="bold" stroke-width="0.32" textLength="19.8" lengthAdjust="spacing">13-Jan</text>
<text transform="translate(363.17,199.6) rotate(-90)" text-anchor="end" font-size="5.4" font-weight="bold" stroke-width="0.32" textLength="19.8" lengthAdjust="spacing">15-Jan</text>
<text transform="translate(371.28,199.6) rotate(-90)" text-anchor="end" font-size="5.4" font-weight="bold" stroke-width="0.32" textLength="19.8" lengthAdjust="spacing">17-Jan</text>
<text transform="translate(379.39,199.6) rotate(-90)" text-anchor="end" font-size="5.4" font-weight="bold" stroke-width="0.32" textLength="19.8" lengthAdjust="spacing">19-Jan</text>
<text transform="translate(387.50,199.6) rotate(-90)" text-anchor="end" font-size="5.4" font-weight="bold" stroke-width="0.32" textLength="19.8" lengthAdjust="spacing">21-Jan</text>
<text transform="translate(395.61,199.6) rotate(-90)" text-anchor="end" font-size="5.4" font-weight="bold" stroke-width="0.32" textLength="19.8" lengthAdjust="spacing">23-Jan</text>
<text transform="translate(403.72,199.6) rotate(-90)" text-anchor="end" font-size="5.4" font-weight="bold" stroke-width="0.32" textLength="19.8" lengthAdjust="spacing">25-Jan</text>
<text transform="translate(411.83,199.6) rotate(-90)" text-anchor="end" font-size="5.4" font-weight="bold" stroke-width="0.32" textLength="19.8" lengthAdjust="spacing">27-Jan</text>
<text transform="translate(419.94,199.6) rotate(-90)" text-anchor="end" font-size="5.4" font-weight="bold" stroke-width="0.32" textLength="19.8" lengthAdjust="spacing">29-Jan</text>
<text transform="translate(428.06,199.6) rotate(-90)" text-anchor="end" font-size="5.4" font-weight="bold" stroke-width="0.32" textLength="19.8" lengthAdjust="spacing">31-Jan</text>
<text transform="translate(436.17,199.6) rotate(-90)" text-anchor="end" font-size="5.4" font-weight="bold" stroke-width="0.32" textLength="19.8" lengthAdjust="spacing">02-Feb</text>
<text transform="translate(444.28,199.6) rotate(-90)" text-anchor="end" font-size="5.4" font-weight="bold" stroke-width="0.32" textLength="19.8" lengthAdjust="spacing">04-Feb</text>
<text transform="translate(452.39,199.6) rotate(-90)" text-anchor="end" font-size="5.4" font-weight="bold" stroke-width="0.32" textLength="19.8" lengthAdjust="spacing">06-Feb</text>
<text transform="translate(460.50,199.6) rotate(-90)" text-anchor="end" font-size="5.4" font-weight="bold" stroke-width="0.32" textLength="19.8" lengthAdjust="spacing">08-Feb</text>
<text transform="translate(468.61,199.6) rotate(-90)" text-anchor="end" font-size="5.4" font-weight="bold" stroke-width="0.32" textLength="19.8" lengthAdjust="spacing">10-Feb</text>
<text transform="translate(476.72,199.6) rotate(-90)" text-anchor="end" font-size="5.4" font-weight="bold" stroke-width="0.32" textLength="19.8" lengthAdjust="spacing">12-Feb</text>
<text transform="translate(484.83,199.6) rotate(-90)" text-anchor="end" font-size="5.4" font-weight="bold" stroke-width="0.32" textLength="19.8" lengthAdjust="spacing">14-Feb</text>
<text transform="translate(492.94,199.6) rotate(-90)" text-anchor="end" font-size="5.4" font-weight="bold" stroke-width="0.32" textLength="19.8" lengthAdjust="spacing">16-Feb</text>
<text transform="translate(501.05,199.6) rotate(-90)" text-anchor="end" font-size="5.4" font-weight="bold" stroke-width="0.32" textLength="19.8" lengthAdjust="spacing">18-Feb</text>
<text transform="translate(509.16,199.6) rotate(-90)" text-anchor="end" font-size="5.4" font-weight="bold" stroke-width="0.32" textLength="19.8" lengthAdjust="spacing">20-Feb</text>
<text transform="translate(517.27,199.6) rotate(-90)" text-anchor="end" font-size="5.4" font-weight="bold" stroke-width="0.32" textLength="19.8" lengthAdjust="spacing">22-Feb</text>
<text transform="translate(525.38,199.6) rotate(-90)" text-anchor="end" font-size="5.4" font-weight="bold" stroke-width="0.32" textLength="19.8" lengthAdjust="spacing">24-Feb</text>
<text transform="translate(533.49,199.6) rotate(-90)" text-anchor="end" font-size="5.4" font-weight="bold" stroke-width="0.32" textLength="19.8" lengthAdjust="spacing">26-Feb</text>
<text transform="translate(541.60,199.6) rotate(-90)" text-anchor="end" font-size="5.4" font-weight="bold" stroke-width="0.32" textLength="19.8" lengthAdjust="spacing">28-Feb</text>
<text transform="translate(286.5,162.5) rotate(-90)" text-anchor="middle" font-size="5.7" font-weight="bold" textLength="39.6" lengthAdjust="spacingAndGlyphs">NO<tspan font-size="4.2" dy="1.2">2</tspan><tspan dy="-1.2"> (ug/m</tspan><tspan font-size="4.2" dy="-2.2">3</tspan><tspan dy="2.2">)</tspan></text>
<polyline points="304.80,169.29 308.86,169.29 312.91,167.34 316.97,162.12 321.02,164.73 325.08,162.12 329.13,179.06 333.19,173.85 337.24,170.59 341.30,167.99 345.35,167.34 349.41,170.59 353.46,164.08 357.52,158.22 361.57,163.43 365.63,170.59 369.68,175.15 373.74,170.59 377.79,165.38 381.85,154.96 385.90,159.52 389.96,169.29 394.01,170.59 398.07,173.85 402.12,173.85 406.18,174.50 410.23,173.20 414.29,173.85 418.34,169.29 422.40,165.38 426.46,166.03 430.51,174.50 434.57,173.85 438.62,173.85 442.68,174.50 446.73,178.41 450.79,177.76 454.84,177.11 458.90,178.41 462.95,179.06 467.01,180.37 471.06,182.32 475.12,183.62 479.17,184.93 483.23,182.97 487.28,182.97 491.34,181.02 495.39,179.06 499.45,178.41 503.50,177.76 507.56,175.81 511.61,172.55 515.67,173.20 519.72,165.38 523.78,177.76 527.83,180.37 531.89,182.32 535.94,180.37 540.00,178.41" fill="none" stroke="#5B9BD5" stroke-width="1.3" stroke-linejoin="round"/>
<polyline points="304.80,158.22 308.86,153.00 312.91,152.35 316.97,149.09 321.02,160.82 325.08,167.99 329.13,179.06 333.19,169.29 337.24,156.91 341.30,159.52 345.35,167.99 349.41,162.12 353.46,148.44 357.52,139.97 361.57,150.40 365.63,173.85 369.68,170.59 373.74,154.31 377.79,151.70 381.85,142.58 385.90,150.40 389.96,158.87 394.01,166.03 398.07,171.25 402.12,174.50 406.18,169.94 410.23,165.38 414.29,166.03 418.34,162.12 422.40,150.40 426.46,153.00 430.51,162.12 434.57,159.52 438.62,159.52 442.68,164.08 446.73,177.11 450.79,173.85 454.84,162.78 458.90,181.02 462.95,173.85 467.01,164.73 471.06,177.11 475.12,179.06 479.17,174.50 483.23,179.06 487.28,175.15 491.34,181.02 495.39,177.11 499.45,171.25 503.50,170.59 507.56,171.25 511.61,166.03 515.67,158.87 519.72,169.29 523.78,177.76 527.83,181.02 531.89,183.62 535.94,175.15 540.00,170.59" fill="none" stroke="#ED7D31" stroke-width="1.3" stroke-linejoin="round"/>
<polyline points="304.80,169.29 308.86,162.78 312.91,165.38 316.97,160.82 321.02,165.38 325.08,168.64 329.13,181.02 333.19,173.85 337.24,169.94 341.30,164.08 345.35,170.59 349.41,175.15 353.46,166.03 357.52,158.22 361.57,163.43 365.63,171.25 369.68,175.81 373.74,170.59 377.79,154.96 381.85,144.53 385.90,154.31 389.96,165.38 394.01,155.61 398.07,173.20 402.12,169.94 406.18,166.03 410.23,160.82 414.29,173.85 418.34,170.59 422.40,157.56 426.46,162.78 430.51,177.11 434.57,173.20 438.62,178.41 442.68,172.55 446.73,183.62 450.79,183.62 454.84,179.72 458.90,184.28 462.95,181.02 467.01,178.41 471.06,184.93 475.12,187.53 479.17,184.93 483.23,183.62 487.28,185.58 491.34,184.28 495.39,177.11 499.45,181.02 503.50,182.97 507.56,183.62 511.61,183.62 515.67,177.11 519.72,181.02 523.78,184.93 527.83,187.53 531.89,185.58 535.94,183.62 540.00,180.37" fill="none" stroke="#A5A5A5" stroke-width="1.3" stroke-linejoin="round"/>
<polyline points="304.80,162.78 308.86,162.78 312.91,153.66 316.97,153.66 321.02,162.78 325.08,164.73 329.13,179.06 333.19,172.55 337.24,162.12 341.30,162.78 345.35,169.29 349.41,164.73 353.46,153.66 357.52,141.28 361.57,148.44 365.63,163.43 369.68,170.59 373.74,157.56 377.79,165.38 381.85,156.91 385.90,148.44 389.96,153.66 394.01,167.99 398.07,175.81 402.12,169.94 406.18,166.03 410.23,167.99 414.29,170.59 418.34,173.20 422.40,153.66 426.46,154.96 430.51,164.08 434.57,167.34 438.62,166.03 442.68,167.34 446.73,173.20 450.79,170.59 454.84,165.38 458.90,179.06 462.95,173.85 467.01,167.34 471.06,177.76 475.12,177.76 479.17,178.41 483.23,179.72 487.28,179.06 491.34,179.72 495.39,179.72 499.45,175.15 503.50,170.59 507.56,168.64 511.61,164.08 515.67,162.12 519.72,177.11 523.78,178.41 527.83,179.72 531.89,181.02 535.94,179.06 540.00,177.11" fill="none" stroke="#FFC000" stroke-width="1.3" stroke-linejoin="round"/>
<line x1="347.1" y1="230.7" x2="355.2" y2="230.7" stroke="#5B9BD5" stroke-width="1.4"/>
<text x="356.5" y="233.00" font-size="6.6" font-weight="bold" textLength="18.60" lengthAdjust="spacingAndGlyphs">YiChang</text>
<line x1="380.7" y1="230.7" x2="388.3" y2="230.7" stroke="#ED7D31" stroke-width="1.4"/>
<text x="389.5" y="233.00" font-size="6.6" font-weight="bold" textLength="16.60" lengthAdjust="spacingAndGlyphs">Wuhan</text>
<line x1="413.7" y1="230.7" x2="420.1" y2="230.7" stroke="#A5A5A5" stroke-width="1.4"/>
<text x="420.9" y="233.00" font-size="6.6" font-weight="bold" textLength="19.60" lengthAdjust="spacingAndGlyphs">Jingzhou</text>
<line x1="446.8" y1="230.7" x2="454.5" y2="230.7" stroke="#FFC000" stroke-width="1.4"/>
<text x="455.7" y="233.00" font-size="6.6" font-weight="bold" textLength="21.20" lengthAdjust="spacingAndGlyphs">Huangshi</text>
<text x="502.4" y="136.4" text-anchor="middle" font-family="'Liberation Serif', 'Times New Roman', serif" font-size="13.6" font-weight="bold" stroke="none" stroke-width="0.22">(d)</text>
<line x1="27" y1="312.80" x2="270.9" y2="312.80" stroke="#dcdcdc" stroke-width="0.8"/>
<line x1="27" y1="303.59" x2="270.9" y2="303.59" stroke="#dcdcdc" stroke-width="0.8"/>
<line x1="27" y1="294.37" x2="270.9" y2="294.37" stroke="#dcdcdc" stroke-width="0.8"/>
<line x1="27" y1="285.16" x2="270.9" y2="285.16" stroke="#dcdcdc" stroke-width="0.8"/>
<line x1="27" y1="275.94" x2="270.9" y2="275.94" stroke="#dcdcdc" stroke-width="0.8"/>
<line x1="27" y1="266.73" x2="270.9" y2="266.73" stroke="#dcdcdc" stroke-width="0.8"/>
<line x1="27" y1="257.51" x2="270.9" y2="257.51" stroke="#dcdcdc" stroke-width="0.8"/>
<line x1="27" y1="248.30" x2="270.9" y2="248.30" stroke="#dcdcdc" stroke-width="0.8"/>
<rect x="210" y="242.4" width="23" height="13" fill="#fff" stroke="none"/>
<text x="23.0" y="315.00" text-anchor="end" font-size="6.4" font-weight="bold" textLength="2.65" lengthAdjust="spacingAndGlyphs">0</text>
<text x="23.0" y="305.79" text-anchor="end" font-size="6.4" font-weight="bold" textLength="2.65" lengthAdjust="spacingAndGlyphs">5</text>
<text x="23.0" y="296.57" text-anchor="end" font-size="6.4" font-weight="bold" textLength="5.30" lengthAdjust="spacingAndGlyphs">10</text>
<text x="23.0" y="287.36" text-anchor="end" font-size="6.4" font-weight="bold" textLength="5.30" lengthAdjust="spacingAndGlyphs">15</text>
<text x="23.0" y="278.14" text-anchor="end" font-size="6.4" font-weight="bold" textLength="5.30" lengthAdjust="spacingAndGlyphs">20</text>
<text x="23.0" y="268.93" text-anchor="end" font-size="6.4" font-weight="bold" textLength="5.30" lengthAdjust="spacingAndGlyphs">25</text>
<text x="23.0" y="259.71" text-anchor="end" font-size="6.4" font-weight="bold" textLength="5.30" lengthAdjust="spacingAndGlyphs">30</text>
<text x="23.0" y="250.50" text-anchor="end" font-size="6.4" font-weight="bold" textLength="5.30" lengthAdjust="spacingAndGlyphs">35</text>
<text transform="translate(32.40,318) rotate(-90)" text-anchor="end" font-size="5.4" font-weight="bold" stroke-width="0.32" textLength="20.3" lengthAdjust="spacing">01-Jan</text>
<text transform="translate(40.60,318) rotate(-90)" text-anchor="end" font-size="5.4" font-weight="bold" stroke-width="0.32" textLength="20.3" lengthAdjust="spacing">03-Jan</text>
<text transform="translate(48.81,318) rotate(-90)" text-anchor="end" font-size="5.4" font-weight="bold" stroke-width="0.32" textLength="20.3" lengthAdjust="spacing">05-Jan</text>
<text transform="translate(57.01,318) rotate(-90)" text-anchor="end" font-size="5.4" font-weight="bold" stroke-width="0.32" textLength="20.3" lengthAdjust="spacing">07-Jan</text>
<text transform="translate(65.21,318) rotate(-90)" text-anchor="end" font-size="5.4" font-weight="bold" stroke-width="0.32" textLength="20.3" lengthAdjust="spacing">09-Jan</text>
<text transform="translate(73.42,318) rotate(-90)" text-anchor="end" font-size="5.4" font-weight="bold" stroke-width="0.32" textLength="20.3" lengthAdjust="spacing">11-Jan</text>
<text transform="translate(81.62,318) rotate(-90)" text-anchor="end" font-size="5.4" font-weight="bold" stroke-width="0.32" textLength="20.3" lengthAdjust="spacing">13-Jan</text>
<text transform="translate(89.82,318) rotate(-90)" text-anchor="end" font-size="5.4" font-weight="bold" stroke-width="0.32" textLength="20.3" lengthAdjust="spacing">15-Jan</text>
<text transform="translate(98.03,318) rotate(-90)" text-anchor="end" font-size="5.4" font-weight="bold" stroke-width="0.32" textLength="20.3" lengthAdjust="spacing">17-Jan</text>
<text transform="translate(106.23,318) rotate(-90)" text-anchor="end" font-size="5.4" font-weight="bold" stroke-width="0.32" textLength="20.3" lengthAdjust="spacing">19-Jan</text>
<text transform="translate(114.43,318) rotate(-90)" text-anchor="end" font-size="5.4" font-weight="bold" stroke-width="0.32" textLength="20.3" lengthAdjust="spacing">21-Jan</text>
<text transform="translate(122.64,318) rotate(-90)" text-anchor="end" font-size="5.4" font-weight="bold" stroke-width="0.32" textLength="20.3" lengthAdjust="spacing">23-Jan</text>
<text transform="translate(130.84,318) rotate(-90)" text-anchor="end" font-size="5.4" font-weight="bold" stroke-width="0.32" textLength="20.3" lengthAdjust="spacing">25-Jan</text>
<text transform="translate(139.04,318) rotate(-90)" text-anchor="end" font-size="5.4" font-weight="bold" stroke-width="0.32" textLength="20.3" lengthAdjust="spacing">27-Jan</text>
<text transform="translate(147.25,318) rotate(-90)" text-anchor="end" font-size="5.4" font-weight="bold" stroke-width="0.32" textLength="20.3" lengthAdjust="spacing">29-Jan</text>
<text transform="translate(155.45,318) rotate(-90)" text-anchor="end" font-size="5.4" font-weight="bold" stroke-width="0.32" textLength="20.3" lengthAdjust="spacing">31-Jan</text>
<text transform="translate(163.66,318) rotate(-90)" text-anchor="end" font-size="5.4" font-weight="bold" stroke-width="0.32" textLength="20.3" lengthAdjust="spacing">02-Feb</text>
<text transform="translate(171.86,318) rotate(-90)" text-anchor="end" font-size="5.4" font-weight="bold" stroke-width="0.32" textLength="20.3" lengthAdjust="spacing">04-Feb</text>
<text transform="translate(180.06,318) rotate(-90)" text-anchor="end" font-size="5.4" font-weight="bold" stroke-width="0.32" textLength="20.3" lengthAdjust="spacing">06-Feb</text>
<text transform="translate(188.27,318) rotate(-90)" text-anchor="end" font-size="5.4" font-weight="bold" stroke-width="0.32" textLength="20.3" lengthAdjust="spacing">08-Feb</text>
<text transform="translate(196.47,318) rotate(-90)" text-anchor="end" font-size="5.4" font-weight="bold" stroke-width="0.32" textLength="20.3" lengthAdjust="spacing">10-Feb</text>
<text transform="translate(204.67,318) rotate(-90)" text-anchor="end" font-size="5.4" font-weight="bold" stroke-width="0.32" textLength="20.3" lengthAdjust="spacing">12-Feb</text>
<text transform="translate(212.88,318) rotate(-90)" text-anchor="end" font-size="5.4" font-weight="bold" stroke-width="0.32" textLength="20.3" lengthAdjust="spacing">14-Feb</text>
<text transform="translate(221.08,318) rotate(-90)" text-anchor="end" font-size="5.4" font-weight="bold" stroke-width="0.32" textLength="20.3" lengthAdjust="spacing">16-Feb</text>
<text transform="translate(229.28,318) rotate(-90)" text-anchor="end" font-size="5.4" font-weight="bold" stroke-width="0.32" textLength="20.3" lengthAdjust="spacing">18-Feb</text>
<text transform="translate(237.49,318) rotate(-90)" text-anchor="end" font-size="5.4" font-weight="bold" stroke-width="0.32" textLength="20.3" lengthAdjust="spacing">20-Feb</text>
<text transform="translate(245.69,318) rotate(-90)" text-anchor="end" font-size="5.4" font-weight="bold" stroke-width="0.32" textLength="20.3" lengthAdjust="spacing">22-Feb</text>
<text transform="translate(253.89,318) rotate(-90)" text-anchor="end" font-size="5.4" font-weight="bold" stroke-width="0.32" textLength="20.3" lengthAdjust="spacing">24-Feb</text>
<text transform="translate(262.10,318) rotate(-90)" text-anchor="end" font-size="5.4" font-weight="bold" stroke-width="0.32" textLength="20.3" lengthAdjust="spacing">26-Feb</text>
<text transform="translate(270.30,318) rotate(-90)" text-anchor="end" font-size="5.4" font-weight="bold" stroke-width="0.32" textLength="20.3" lengthAdjust="spacing">28-Feb</text>
<text transform="translate(14.6,280.7) rotate(-90)" text-anchor="middle" font-size="5.7" font-weight="bold" textLength="38" lengthAdjust="spacingAndGlyphs">SO<tspan font-size="4.2" dy="1.2">2</tspan><tspan dy="-1.2"> (ug/m</tspan><tspan font-size="4.2" dy="-2.2">3</tspan><tspan dy="2.2">)</tspan></text>
<polyline points="30.80,299.16 34.90,300.64 39.00,297.69 43.11,298.43 47.21,293.27 51.31,288.11 55.41,296.95 59.51,298.43 63.61,299.90 67.72,296.21 71.82,298.43 75.92,300.64 80.02,297.69 84.12,296.95 88.22,295.11 92.33,295.48 96.43,297.69 100.53,299.90 104.63,297.69 108.73,291.79 112.83,298.43 116.94,299.90 121.04,294.74 125.14,300.64 129.24,302.30 133.34,299.90 137.44,298.43 141.55,299.90 145.65,299.90 149.75,298.43 153.85,299.16 157.95,300.64 162.06,299.90 166.16,300.64 170.26,300.64 174.36,301.37 178.46,301.37 182.56,299.90 186.67,297.69 190.77,298.43 194.87,299.16 198.97,297.69 203.07,299.90 207.17,299.90 211.28,299.16 215.38,297.69 219.48,297.69 223.58,296.95 227.68,296.21 231.78,299.90 235.89,298.43 239.99,297.69 244.09,296.21 248.19,296.21 252.29,298.43 256.39,300.64 260.50,299.90 264.60,300.64 268.70,299.90" fill="none" stroke="#5B9BD5" stroke-width="1.3" stroke-linejoin="round"/>
<polyline points="30.80,299.90 34.90,291.05 39.00,295.48 43.11,288.84 47.21,301.37 51.31,300.64 55.41,299.16 59.51,299.16 63.61,294.74 67.72,294.00 71.82,291.79 75.92,294.74 80.02,291.05 84.12,282.02 88.22,282.76 92.33,293.45 96.43,296.21 100.53,294.00 104.63,281.29 108.73,288.11 112.83,298.43 116.94,300.64 121.04,299.16 125.14,300.64 129.24,303.03 133.34,299.16 137.44,300.64 141.55,299.90 145.65,294.37 149.75,288.47 153.85,296.21 157.95,301.37 162.06,299.90 166.16,299.90 170.26,300.64 174.36,303.03 178.46,302.30 182.56,300.64 186.67,301.37 190.77,299.90 194.87,295.48 198.97,296.95 203.07,298.43 207.17,298.43 211.28,296.21 215.38,301.37 219.48,298.43 223.58,296.95 227.68,295.48 231.78,294.00 235.89,296.95 239.99,296.21 244.09,290.32 248.19,282.02 252.29,295.48 256.39,303.03 260.50,303.77 264.60,301.37 268.70,301.37" fill="none" stroke="#ED7D31" stroke-width="1.3" stroke-linejoin="round"/>
<polyline points="30.80,294.00 34.90,289.58 39.00,290.32 43.11,285.71 47.21,284.24 51.31,279.81 55.41,294.74 59.51,292.53 63.61,291.79 67.72,283.50 71.82,284.97 75.92,291.79 80.02,293.27 84.12,288.11 88.22,283.50 92.33,287.92 96.43,291.05 100.53,294.74 104.63,284.97 108.73,279.08 112.83,297.69 116.94,278.34 121.04,297.69 125.14,301.37 129.24,302.30 133.34,299.16 137.44,295.48 141.55,293.27 145.65,290.69 149.75,275.02 153.85,294.74 157.95,300.64 162.06,299.16 166.16,299.90 170.26,294.74 174.36,301.37 178.46,297.69 182.56,295.48 186.67,293.27 190.77,286.45 194.87,287.37 198.97,291.79 203.07,293.27 207.17,298.06 211.28,296.95 215.38,291.79 219.48,294.00 223.58,276.13 227.68,292.53 231.78,295.48 235.89,296.21 239.99,296.95 244.09,289.58 248.19,290.32 252.29,293.27 256.39,296.95 260.50,294.00 264.60,291.05 268.70,291.05" fill="none" stroke="#A5A5A5" stroke-width="1.3" stroke-linejoin="round"/>
<polyline points="30.80,289.58 34.90,284.24 39.00,283.50 43.11,283.50 47.21,291.79 51.31,292.53 55.41,296.95 59.51,292.53 63.61,283.50 67.72,284.97 71.82,287.37 75.92,285.71 80.02,269.31 84.12,256.78 88.22,272.26 92.33,287.37 96.43,288.84 100.53,273.18 104.63,273.92 108.73,276.86 112.83,287.37 116.94,294.74 121.04,299.16 125.14,301.37 129.24,303.03 133.34,299.90 137.44,300.64 141.55,300.64 145.65,292.53 149.75,275.02 153.85,279.08 157.95,298.43 162.06,295.48 166.16,284.97 170.26,296.21 174.36,303.03 178.46,291.79 182.56,299.16 186.67,299.90 190.77,299.16 194.87,296.21 198.97,297.69 203.07,287.37 207.17,293.27 211.28,288.11 215.38,294.74 219.48,295.48 223.58,294.74 227.68,291.79 231.78,280.55 235.89,282.02 239.99,277.60 244.09,264.15 248.19,288.84 252.29,295.48 256.39,300.64 260.50,301.37 264.60,294.74 268.70,296.95" fill="none" stroke="#FFC000" stroke-width="1.3" stroke-linejoin="round"/>
<line x1="75.1" y1="349.0" x2="83.2" y2="349.0" stroke="#5B9BD5" stroke-width="1.4"/>
<text x="84.5" y="351.30" font-size="6.6" font-weight="bold" textLength="18.60" lengthAdjust="spacingAndGlyphs">YiChang</text>
<line x1="108.7" y1="349.0" x2="116.3" y2="349.0" stroke="#ED7D31" stroke-width="1.4"/>
<text x="117.5" y="351.30" font-size="6.6" font-weight="bold" textLength="16.60" lengthAdjust="spacingAndGlyphs">Wuhan</text>
<line x1="141.7" y1="349.0" x2="148.1" y2="349.0" stroke="#A5A5A5" stroke-width="1.4"/>
<text x="148.9" y="351.30" font-size="6.6" font-weight="bold" textLength="19.60" lengthAdjust="spacingAndGlyphs">Jingzhou</text>
<line x1="174.8" y1="349.0" x2="182.5" y2="349.0" stroke="#FFC000" stroke-width="1.4"/>
<text x="183.7" y="351.30" font-size="6.6" font-weight="bold" textLength="21.20" lengthAdjust="spacingAndGlyphs">Huangshi</text>
<text x="221.9" y="253.4" text-anchor="middle" font-family="'Liberation Serif', 'Times New Roman', serif" font-size="13.2" font-weight="normal" stroke="#1a1a1a" stroke-width="0.22">(e)</text>
<line x1="300.4" y1="312.80" x2="541.8" y2="312.80" stroke="#dcdcdc" stroke-width="0.8"/>
<line x1="300.4" y1="296.68" x2="541.8" y2="296.68" stroke="#dcdcdc" stroke-width="0.8"/>
<line x1="300.4" y1="280.55" x2="541.8" y2="280.55" stroke="#dcdcdc" stroke-width="0.8"/>
<line x1="300.4" y1="264.43" x2="541.8" y2="264.43" stroke="#dcdcdc" stroke-width="0.8"/>
<line x1="300.4" y1="248.30" x2="541.8" y2="248.30" stroke="#dcdcdc" stroke-width="0.8"/>
<rect x="489.5" y="242.8" width="21.0" height="13" fill="#fff" stroke="none"/>
<text x="296.0" y="315.00" text-anchor="end" font-size="6.4" font-weight="bold" textLength="2.87" lengthAdjust="spacingAndGlyphs">0</text>
<text x="296.0" y="298.88" text-anchor="end" font-size="6.4" font-weight="bold" textLength="7.17" lengthAdjust="spacingAndGlyphs">0.5</text>
<text x="296.0" y="282.75" text-anchor="end" font-size="6.4" font-weight="bold" textLength="2.87" lengthAdjust="spacingAndGlyphs">1</text>
<text x="296.0" y="266.62" text-anchor="end" font-size="6.4" font-weight="bold" textLength="7.17" lengthAdjust="spacingAndGlyphs">1.5</text>
<text x="296.0" y="250.50" text-anchor="end" font-size="6.4" font-weight="bold" textLength="2.87" lengthAdjust="spacingAndGlyphs">2</text>
<text transform="translate(304.90,318) rotate(-90)" text-anchor="end" font-size="5.4" font-weight="bold" stroke-width="0.32" textLength="20.3" lengthAdjust="spacing">01-Jan</text>
<text transform="translate(313.06,318) rotate(-90)" text-anchor="end" font-size="5.4" font-weight="bold" stroke-width="0.32" textLength="20.3" lengthAdjust="spacing">03-Jan</text>
<text transform="translate(321.22,318) rotate(-90)" text-anchor="end" font-size="5.4" font-weight="bold" stroke-width="0.32" textLength="20.3" lengthAdjust="spacing">05-Jan</text>
<text transform="translate(329.39,318) rotate(-90)" text-anchor="end" font-size="5.4" font-weight="bold" stroke-width="0.32" textLength="20.3" lengthAdjust="spacing">07-Jan</text>
<text transform="translate(337.55,318) rotate(-90)" text-anchor="end" font-size="5.4" font-weight="bold" stroke-width="0.32" textLength="20.3" lengthAdjust="spacing">09-Jan</text>
<text transform="translate(345.71,318) rotate(-90)" text-anchor="end" font-size="5.4" font-weight="bold" stroke-width="0.32" textLength="20.3" lengthAdjust="spacing">11-Jan</text>
<text transform="translate(353.87,318) rotate(-90)" text-anchor="end" font-size="5.4" font-weight="bold" stroke-width="0.32" textLength="20.3" lengthAdjust="spacing">13-Jan</text>
<text transform="translate(362.03,318) rotate(-90)" text-anchor="end" font-size="5.4" font-weight="bold" stroke-width="0.32" textLength="20.3" lengthAdjust="spacing">15-Jan</text>
<text transform="translate(370.20,318) rotate(-90)" text-anchor="end" font-size="5.4" font-weight="bold" stroke-width="0.32" textLength="20.3" lengthAdjust="spacing">17-Jan</text>
<text transform="translate(378.36,318) rotate(-90)" text-anchor="end" font-size="5.4" font-weight="bold" stroke-width="0.32" textLength="20.3" lengthAdjust="spacing">19-Jan</text>
<text transform="translate(386.52,318) rotate(-90)" text-anchor="end" font-size="5.4" font-weight="bold" stroke-width="0.32" textLength="20.3" lengthAdjust="spacing">21-Jan</text>
<text transform="translate(394.68,318) rotate(-90)" text-anchor="end" font-size="5.4" font-weight="bold" stroke-width="0.32" textLength="20.3" lengthAdjust="spacing">23-Jan</text>
<text transform="translate(402.84,318) rotate(-90)" text-anchor="end" font-size="5.4" font-weight="bold" stroke-width="0.32" textLength="20.3" lengthAdjust="spacing">25-Jan</text>
<text transform="translate(411.01,318) rotate(-90)" text-anchor="end" font-size="5.4" font-weight="bold" stroke-width="0.32" textLength="20.3" lengthAdjust="spacing">27-Jan</text>
<text transform="translate(419.17,318) rotate(-90)" text-anchor="end" font-size="5.4" font-weight="bold" stroke-width="0.32" textLength="20.3" lengthAdjust="spacing">29-Jan</text>
<text transform="translate(427.33,318) rotate(-90)" text-anchor="end" font-size="5.4" font-weight="bold" stroke-width="0.32" textLength="20.3" lengthAdjust="spacing">31-Jan</text>
<text transform="translate(435.49,318) rotate(-90)" text-anchor="end" font-size="5.4" font-weight="bold" stroke-width="0.32" textLength="20.3" lengthAdjust="spacing">02-Feb</text>
<text transform="translate(443.66,318) rotate(-90)" text-anchor="end" font-size="5.4" font-weight="bold" stroke-width="0.32" textLength="20.3" lengthAdjust="spacing">04-Feb</text>
<text transform="translate(451.82,318) rotate(-90)" text-anchor="end" font-size="5.4" font-weight="bold" stroke-width="0.32" textLength="20.3" lengthAdjust="spacing">06-Feb</text>
<text transform="translate(459.98,318) rotate(-90)" text-anchor="end" font-size="5.4" font-weight="bold" stroke-width="0.32" textLength="20.3" lengthAdjust="spacing">08-Feb</text>
<text transform="translate(468.14,318) rotate(-90)" text-anchor="end" font-size="5.4" font-weight="bold" stroke-width="0.32" textLength="20.3" lengthAdjust="spacing">10-Feb</text>
<text transform="translate(476.30,318) rotate(-90)" text-anchor="end" font-size="5.4" font-weight="bold" stroke-width="0.32" textLength="20.3" lengthAdjust="spacing">12-Feb</text>
<text transform="translate(484.47,318) rotate(-90)" text-anchor="end" font-size="5.4" font-weight="bold" stroke-width="0.32" textLength="20.3" lengthAdjust="spacing">14-Feb</text>
<text transform="translate(492.63,318) rotate(-90)" text-anchor="end" font-size="5.4" font-weight="bold" stroke-width="0.32" textLength="20.3" lengthAdjust="spacing">16-Feb</text>
<text transform="translate(500.79,318) rotate(-90)" text-anchor="end" font-size="5.4" font-weight="bold" stroke-width="0.32" textLength="20.3" lengthAdjust="spacing">18-Feb</text>
<text transform="translate(508.95,318) rotate(-90)" text-anchor="end" font-size="5.4" font-weight="bold" stroke-width="0.32" textLength="20.3" lengthAdjust="spacing">20-Feb</text>
<text transform="translate(517.11,318) rotate(-90)" text-anchor="end" font-size="5.4" font-weight="bold" stroke-width="0.32" textLength="20.3" lengthAdjust="spacing">22-Feb</text>
<text transform="translate(525.28,318) rotate(-90)" text-anchor="end" font-size="5.4" font-weight="bold" stroke-width="0.32" textLength="20.3" lengthAdjust="spacing">24-Feb</text>
<text transform="translate(533.44,318) rotate(-90)" text-anchor="end" font-size="5.4" font-weight="bold" stroke-width="0.32" textLength="20.3" lengthAdjust="spacing">26-Feb</text>
<text transform="translate(541.60,318) rotate(-90)" text-anchor="end" font-size="5.4" font-weight="bold" stroke-width="0.32" textLength="20.3" lengthAdjust="spacing">28-Feb</text>
<text transform="translate(286.5,280.7) rotate(-90)" text-anchor="middle" font-size="5.7" font-weight="bold" textLength="36.6" lengthAdjust="spacingAndGlyphs">CO (ug/m<tspan font-size="4.2" dy="-2.2">3</tspan><tspan dy="2.2">)</tspan></text>
<polyline points="303.30,282.16 307.38,271.52 311.46,270.23 315.54,269.26 319.62,261.85 323.71,258.94 327.79,291.84 331.87,288.61 335.95,285.06 340.03,282.16 344.11,280.55 348.19,285.71 352.27,280.55 356.35,271.52 360.43,275.07 364.52,278.62 368.60,285.06 372.68,278.94 376.76,277.65 380.84,268.62 384.92,265.72 389.00,271.52 393.08,272.49 397.16,276.04 401.24,274.42 405.33,277.65 409.41,278.94 413.49,284.42 417.57,286.68 421.65,277.97 425.73,273.13 429.81,282.16 433.89,285.06 437.97,281.19 442.06,277.65 446.14,288.61 450.22,278.94 454.30,267.97 458.38,273.13 462.46,278.94 466.54,279.91 470.62,280.55 474.70,280.55 478.78,286.68 482.87,287.97 486.95,286.68 491.03,288.61 495.11,294.10 499.19,289.58 503.27,293.13 507.35,294.10 511.43,292.48 515.51,290.23 519.59,283.45 523.68,291.84 527.76,297.64 531.84,294.10 535.92,287.97 540.00,283.45" fill="none" stroke="#5B9BD5" stroke-width="1.3" stroke-linejoin="round"/>
<polyline points="303.30,291.84 307.38,276.68 311.46,287.97 315.54,273.78 319.62,272.49 323.71,276.04 327.79,297.00 331.87,294.74 335.95,290.87 340.03,288.61 344.11,289.58 348.19,293.13 352.27,282.16 356.35,270.23 360.43,274.75 364.52,288.61 368.60,292.48 372.68,289.58 376.76,279.91 380.84,276.04 384.92,278.94 389.00,280.55 393.08,272.49 397.16,279.91 401.24,276.04 405.33,272.49 409.41,270.23 413.49,282.16 417.57,288.61 421.65,279.91 425.73,273.13 429.81,283.45 433.89,270.23 437.97,278.29 442.06,282.81 446.14,290.87 450.22,290.87 454.30,277.65 458.38,288.61 462.46,287.32 466.54,280.55 470.62,282.81 474.70,284.42 478.78,287.64 482.87,288.61 486.95,284.42 491.03,288.61 495.11,291.84 499.19,288.61 503.27,292.48 507.35,295.38 511.43,291.84 515.51,282.16 519.59,277.65 523.68,290.23 527.76,294.10 531.84,294.10 535.92,287.32 540.00,282.81" fill="none" stroke="#ED7D31" stroke-width="1.3" stroke-linejoin="round"/>
<polyline points="303.30,286.68 307.38,273.78 311.46,276.04 315.54,270.23 319.62,261.85 323.71,263.46 327.79,293.13 331.87,291.84 335.95,287.97 340.03,285.71 344.11,287.97 348.19,287.97 352.27,284.42 356.35,282.16 360.43,283.45 364.52,285.39 368.60,288.61 372.68,289.58 376.76,279.91 380.84,276.04 384.92,271.52 389.00,278.29 393.08,270.88 397.16,273.78 401.24,270.88 405.33,268.62 409.41,264.75 413.49,273.78 417.57,278.29 421.65,276.36 425.73,273.13 429.81,280.55 433.89,280.55 437.97,280.55 442.06,281.19 446.14,287.32 450.22,281.19 454.30,278.94 458.38,283.45 462.46,285.71 466.54,278.29 470.62,279.91 474.70,283.45 478.78,286.36 482.87,287.32 486.95,287.97 491.03,284.42 495.11,288.61 499.19,287.32 503.27,291.84 507.35,292.48 511.43,290.23 515.51,282.81 519.59,281.19 523.68,290.87 527.76,291.84 531.84,289.58 535.92,285.06 540.00,282.16" fill="none" stroke="#A5A5A5" stroke-width="1.3" stroke-linejoin="round"/>
<polyline points="303.30,274.42 307.38,273.13 311.46,279.91 315.54,270.23 319.62,268.62 323.71,267.00 327.79,295.38 331.87,291.84 335.95,285.71 340.03,282.16 344.11,287.97 348.19,280.55 352.27,266.36 356.35,258.30 360.43,266.36 364.52,286.36 368.60,287.97 372.68,267.97 376.76,278.94 380.84,269.26 384.92,264.10 389.00,262.49 393.08,272.49 397.16,278.94 401.24,272.49 405.33,258.94 409.41,268.62 413.49,279.91 417.57,283.78 421.65,276.36 425.73,264.75 429.81,275.39 433.89,271.52 437.97,282.16 442.06,282.81 446.14,287.97 450.22,282.16 454.30,276.04 458.38,286.68 462.46,291.84 466.54,279.91 470.62,284.42 474.70,290.23 478.78,289.90 482.87,288.61 486.95,280.55 491.03,284.42 495.11,290.87 499.19,287.32 503.27,282.81 507.35,281.19 511.43,279.91 515.51,275.39 519.59,282.16 523.68,292.48 527.76,290.87 531.84,289.58 535.92,285.06 540.00,282.81" fill="none" stroke="#FFC000" stroke-width="1.3" stroke-linejoin="round"/>
<line x1="347.1" y1="348.8" x2="355.2" y2="348.8" stroke="#5B9BD5" stroke-width="1.4"/>
<text x="356.5" y="351.10" font-size="6.6" font-weight="bold" textLength="18.60" lengthAdjust="spacingAndGlyphs">YiChang</text>
<line x1="380.7" y1="348.8" x2="388.3" y2="348.8" stroke="#ED7D31" stroke-width="1.4"/>
<text x="389.5" y="351.10" font-size="6.6" font-weight="bold" textLength="16.60" lengthAdjust="spacingAndGlyphs">Wuhan</text>
<line x1="413.7" y1="348.8" x2="420.1" y2="348.8" stroke="#A5A5A5" stroke-width="1.4"/>
<text x="420.9" y="351.10" font-size="6.6" font-weight="bold" textLength="19.60" lengthAdjust="spacingAndGlyphs">Jingzhou</text>
<line x1="446.8" y1="348.8" x2="454.5" y2="348.8" stroke="#FFC000" stroke-width="1.4"/>
<text x="455.7" y="351.10" font-size="6.6" font-weight="bold" textLength="21.20" lengthAdjust="spacingAndGlyphs">Huangshi</text>
<text x="501.6" y="253.8" text-anchor="middle" font-family="'Liberation Serif', 'Times New Roman', serif" font-size="13" font-weight="normal" stroke="#1a1a1a" stroke-width="0.22">(f)</text>
<line x1="67.4" y1="431.20" x2="467.5" y2="431.20" stroke="#dcdcdc" stroke-width="0.8"/>
<line x1="67.4" y1="418.22" x2="467.5" y2="418.22" stroke="#dcdcdc" stroke-width="0.8"/>
<line x1="67.4" y1="405.24" x2="467.5" y2="405.24" stroke="#dcdcdc" stroke-width="0.8"/>
<line x1="67.4" y1="392.26" x2="467.5" y2="392.26" stroke="#dcdcdc" stroke-width="0.8"/>
<line x1="67.4" y1="379.28" x2="467.5" y2="379.28" stroke="#dcdcdc" stroke-width="0.8"/>
<line x1="67.4" y1="366.30" x2="467.5" y2="366.30" stroke="#dcdcdc" stroke-width="0.8"/>
<rect x="421" y="362.0" width="19" height="13" fill="#fff" stroke="none"/>
<text x="62.1" y="433.40" text-anchor="end" font-size="6.4" font-weight="bold" textLength="2.80" lengthAdjust="spacingAndGlyphs">0</text>
<text x="62.1" y="420.42" text-anchor="end" font-size="6.4" font-weight="bold" textLength="5.60" lengthAdjust="spacingAndGlyphs">50</text>
<text x="62.1" y="407.44" text-anchor="end" font-size="6.4" font-weight="bold" textLength="8.40" lengthAdjust="spacingAndGlyphs">100</text>
<text x="62.1" y="394.46" text-anchor="end" font-size="6.4" font-weight="bold" textLength="8.40" lengthAdjust="spacingAndGlyphs">150</text>
<text x="62.1" y="381.48" text-anchor="end" font-size="6.4" font-weight="bold" textLength="8.40" lengthAdjust="spacingAndGlyphs">200</text>
<text x="62.1" y="368.50" text-anchor="end" font-size="6.4" font-weight="bold" textLength="8.40" lengthAdjust="spacingAndGlyphs">250</text>
<text transform="translate(71.60,442.4) scale(1,1.2) rotate(-45)" text-anchor="end" font-size="5.6" font-weight="bold" stroke-width="0.3" textLength="16.2" lengthAdjust="spacingAndGlyphs">01-Jan</text>
<text transform="translate(85.15,442.4) scale(1,1.2) rotate(-45)" text-anchor="end" font-size="5.6" font-weight="bold" stroke-width="0.3" textLength="16.2" lengthAdjust="spacingAndGlyphs">03-Jan</text>
<text transform="translate(98.70,442.4) scale(1,1.2) rotate(-45)" text-anchor="end" font-size="5.6" font-weight="bold" stroke-width="0.3" textLength="16.2" lengthAdjust="spacingAndGlyphs">05-Jan</text>
<text transform="translate(112.24,442.4) scale(1,1.2) rotate(-45)" text-anchor="end" font-size="5.6" font-weight="bold" stroke-width="0.3" textLength="16.2" lengthAdjust="spacingAndGlyphs">07-Jan</text>
<text transform="translate(125.79,442.4) scale(1,1.2) rotate(-45)" text-anchor="end" font-size="5.6" font-weight="bold" stroke-width="0.3" textLength="16.2" lengthAdjust="spacingAndGlyphs">09-Jan</text>
<text transform="translate(139.34,442.4) scale(1,1.2) rotate(-45)" text-anchor="end" font-size="5.6" font-weight="bold" stroke-width="0.3" textLength="16.2" lengthAdjust="spacingAndGlyphs">11-Jan</text>
<text transform="translate(152.89,442.4) scale(1,1.2) rotate(-45)" text-anchor="end" font-size="5.6" font-weight="bold" stroke-width="0.3" textLength="16.2" lengthAdjust="spacingAndGlyphs">13-Jan</text>
<text transform="translate(166.44,442.4) scale(1,1.2) rotate(-45)" text-anchor="end" font-size="5.6" font-weight="bold" stroke-width="0.3" textLength="16.2" lengthAdjust="spacingAndGlyphs">15-Jan</text>
<text transform="translate(179.99,442.4) scale(1,1.2) rotate(-45)" text-anchor="end" font-size="5.6" font-weight="bold" stroke-width="0.3" textLength="16.2" lengthAdjust="spacingAndGlyphs">17-Jan</text>
<text transform="translate(193.53,442.4) scale(1,1.2) rotate(-45)" text-anchor="end" font-size="5.6" font-weight="bold" stroke-width="0.3" textLength="16.2" lengthAdjust="spacingAndGlyphs">19-Jan</text>
<text transform="translate(207.08,442.4) scale(1,1.2) rotate(-45)" text-anchor="end" font-size="5.6" font-weight="bold" stroke-width="0.3" textLength="16.2" lengthAdjust="spacingAndGlyphs">21-Jan</text>
<text transform="translate(220.63,442.4) scale(1,1.2) rotate(-45)" text-anchor="end" font-size="5.6" font-weight="bold" stroke-width="0.3" textLength="16.2" lengthAdjust="spacingAndGlyphs">23-Jan</text>
<text transform="translate(234.18,442.4) scale(1,1.2) rotate(-45)" text-anchor="end" font-size="5.6" font-weight="bold" stroke-width="0.3" textLength="16.2" lengthAdjust="spacingAndGlyphs">25-Jan</text>
<text transform="translate(247.73,442.4) scale(1,1.2) rotate(-45)" text-anchor="end" font-size="5.6" font-weight="bold" stroke-width="0.3" textLength="16.2" lengthAdjust="spacingAndGlyphs">27-Jan</text>
<text transform="translate(261.28,442.4) scale(1,1.2) rotate(-45)" text-anchor="end" font-size="5.6" font-weight="bold" stroke-width="0.3" textLength="16.2" lengthAdjust="spacingAndGlyphs">29-Jan</text>
<text transform="translate(274.82,442.4) scale(1,1.2) rotate(-45)" text-anchor="end" font-size="5.6" font-weight="bold" stroke-width="0.3" textLength="16.2" lengthAdjust="spacingAndGlyphs">31-Jan</text>
<text transform="translate(288.37,442.4) scale(1,1.2) rotate(-45)" text-anchor="end" font-size="5.6" font-weight="bold" stroke-width="0.3" textLength="16.2" lengthAdjust="spacingAndGlyphs">02-Feb</text>
<text transform="translate(301.92,442.4) scale(1,1.2) rotate(-45)" text-anchor="end" font-size="5.6" font-weight="bold" stroke-width="0.3" textLength="16.2" lengthAdjust="spacingAndGlyphs">04-Feb</text>
<text transform="translate(315.47,442.4) scale(1,1.2) rotate(-45)" text-anchor="end" font-size="5.6" font-weight="bold" stroke-width="0.3" textLength="16.2" lengthAdjust="spacingAndGlyphs">06-Feb</text>
<text transform="translate(329.02,442.4) scale(1,1.2) rotate(-45)" text-anchor="end" font-size="5.6" font-weight="bold" stroke-width="0.3" textLength="16.2" lengthAdjust="spacingAndGlyphs">08-Feb</text>
<text transform="translate(342.57,442.4) scale(1,1.2) rotate(-45)" text-anchor="end" font-size="5.6" font-weight="bold" stroke-width="0.3" textLength="16.2" lengthAdjust="spacingAndGlyphs">10-Feb</text>
<text transform="translate(356.11,442.4) scale(1,1.2) rotate(-45)" text-anchor="end" font-size="5.6" font-weight="bold" stroke-width="0.3" textLength="16.2" lengthAdjust="spacingAndGlyphs">12-Feb</text>
<text transform="translate(369.66,442.4) scale(1,1.2) rotate(-45)" text-anchor="end" font-size="5.6" font-weight="bold" stroke-width="0.3" textLength="16.2" lengthAdjust="spacingAndGlyphs">14-Feb</text>
<text transform="translate(383.21,442.4) scale(1,1.2) rotate(-45)" text-anchor="end" font-size="5.6" font-weight="bold" stroke-width="0.3" textLength="16.2" lengthAdjust="spacingAndGlyphs">16-Feb</text>
<text transform="translate(396.76,442.4) scale(1,1.2) rotate(-45)" text-anchor="end" font-size="5.6" font-weight="bold" stroke-width="0.3" textLength="16.2" lengthAdjust="spacingAndGlyphs">18-Feb</text>
<text transform="translate(410.31,442.4) scale(1,1.2) rotate(-45)" text-anchor="end" font-size="5.6" font-weight="bold" stroke-width="0.3" textLength="16.2" lengthAdjust="spacingAndGlyphs">20-Feb</text>
<text transform="translate(423.86,442.4) scale(1,1.2) rotate(-45)" text-anchor="end" font-size="5.6" font-weight="bold" stroke-width="0.3" textLength="16.2" lengthAdjust="spacingAndGlyphs">22-Feb</text>
<text transform="translate(437.40,442.4) scale(1,1.2) rotate(-45)" text-anchor="end" font-size="5.6" font-weight="bold" stroke-width="0.3" textLength="16.2" lengthAdjust="spacingAndGlyphs">24-Feb</text>
<text transform="translate(450.95,442.4) scale(1,1.2) rotate(-45)" text-anchor="end" font-size="5.6" font-weight="bold" stroke-width="0.3" textLength="16.2" lengthAdjust="spacingAndGlyphs">26-Feb</text>
<text transform="translate(464.50,442.4) scale(1,1.2) rotate(-45)" text-anchor="end" font-size="5.6" font-weight="bold" stroke-width="0.3" textLength="16.2" lengthAdjust="spacingAndGlyphs">28-Feb</text>
<text transform="translate(51,399.7) rotate(-90)" text-anchor="middle" font-size="5.7" font-weight="bold" textLength="12.5" lengthAdjust="spacingAndGlyphs">AQI</text>
<polyline points="70.50,400.83 77.27,393.30 84.05,389.66 90.82,388.11 97.60,374.09 104.37,370.71 111.14,411.21 117.92,414.33 124.69,410.43 131.47,408.87 138.24,409.65 145.02,409.65 151.79,409.65 158.56,406.02 165.34,406.02 172.11,402.38 178.89,412.77 185.66,410.43 192.43,405.24 199.21,394.08 205.98,388.11 212.76,395.63 219.53,378.24 226.31,389.14 233.08,414.33 239.85,409.65 246.63,403.68 253.40,407.58 260.18,406.80 266.95,396.41 273.72,392.52 280.50,408.36 287.27,407.58 294.05,400.83 300.82,398.49 307.59,417.96 314.37,414.85 321.14,406.80 327.92,404.46 334.69,402.90 341.47,401.09 348.24,401.61 355.01,394.08 361.79,408.36 368.56,414.85 375.34,414.33 382.11,415.62 388.88,417.18 395.66,412.77 402.43,415.62 409.21,418.74 415.98,417.18 422.76,415.62 429.53,405.24 436.30,407.58 443.08,421.59 449.85,422.37 456.63,414.85 463.40,404.46" fill="none" stroke="#5B9BD5" stroke-width="1.3" stroke-linejoin="round"/>
<polyline points="70.50,414.85 77.27,409.65 84.05,407.58 90.82,397.71 97.60,379.28 104.37,395.63 111.14,412.77 117.92,417.96 124.69,414.33 131.47,412.77 138.24,414.33 145.02,410.43 151.79,410.43 158.56,406.02 165.34,401.61 172.11,399.27 178.89,410.43 185.66,411.99 192.43,409.65 199.21,408.36 205.98,401.61 212.76,399.27 219.53,392.52 226.31,413.81 233.08,404.46 239.85,391.74 246.63,397.71 253.40,403.68 260.18,405.24 266.95,407.58 273.72,407.58 280.50,411.99 287.27,411.21 294.05,406.80 300.82,406.80 307.59,413.55 314.37,417.96 321.14,411.21 327.92,409.65 334.69,414.85 341.47,410.43 348.24,411.21 355.01,404.46 361.79,408.87 368.56,411.21 375.34,402.38 382.11,411.21 388.88,414.85 395.66,413.55 402.43,416.40 409.21,418.74 415.98,417.18 422.76,414.33 429.53,407.58 436.30,413.55 443.08,423.15 449.85,423.93 456.63,412.77 463.40,417.18" fill="none" stroke="#ED7D31" stroke-width="1.3" stroke-linejoin="round"/>
<polyline points="70.50,415.62 77.27,410.43 84.05,408.36 90.82,400.05 97.60,384.47 104.37,395.63 111.14,411.99 117.92,417.18 124.69,413.55 131.47,412.77 138.24,416.40 145.02,414.33 151.79,414.33 158.56,408.36 165.34,405.24 172.11,391.74 178.89,408.87 185.66,412.77 192.43,411.99 199.21,405.24 205.98,397.71 212.76,405.24 219.53,387.33 226.31,406.02 233.08,405.24 239.85,408.87 246.63,400.83 253.40,403.68 260.18,404.46 266.95,406.02 273.72,405.24 280.50,414.85 287.27,414.85 294.05,410.43 300.82,407.58 307.59,415.62 314.37,418.74 321.14,414.33 327.92,409.65 334.69,411.21 341.47,409.65 348.24,407.58 355.01,392.52 361.79,406.80 368.56,412.77 375.34,411.99 382.11,414.85 388.88,414.33 395.66,412.77 402.43,417.18 409.21,418.74 415.98,417.96 422.76,413.55 429.53,406.80 436.30,413.55 443.08,421.59 449.85,420.30 456.63,406.80 463.40,412.77" fill="none" stroke="#A5A5A5" stroke-width="1.3" stroke-linejoin="round"/>
<polyline points="70.50,414.33 77.27,411.21 84.05,411.21 90.82,404.46 97.60,390.44 104.37,397.71 111.14,413.55 117.92,417.18 124.69,413.55 131.47,412.77 138.24,413.55 145.02,407.58 151.79,408.87 158.56,406.80 165.34,403.68 172.11,400.05 178.89,408.87 185.66,409.65 192.43,410.43 199.21,408.87 205.98,402.38 212.76,399.27 219.53,404.46 226.31,417.96 233.08,413.55 239.85,390.44 246.63,405.24 253.40,404.46 260.18,401.61 266.95,405.24 273.72,408.36 280.50,414.33 287.27,414.85 294.05,410.43 300.82,407.58 307.59,411.99 314.37,414.85 321.14,417.18 327.92,410.43 334.69,417.96 341.47,414.33 348.24,412.77 355.01,406.02 361.79,414.33 368.56,414.33 375.34,411.21 382.11,410.43 388.88,414.33 395.66,413.55 402.43,415.62 409.21,415.62 415.98,415.62 422.76,413.55 429.53,409.65 436.30,414.33 443.08,422.37 449.85,423.15 456.63,416.40 463.40,420.30" fill="none" stroke="#FFC000" stroke-width="1.3" stroke-linejoin="round"/>
<line x1="192.2" y1="467.6" x2="199.8" y2="467.6" stroke="#5B9BD5" stroke-width="1.4"/>
<text x="200.4" y="469.90" font-size="6.6" font-weight="bold" textLength="18.90" lengthAdjust="spacingAndGlyphs">YiChang</text>
<line x1="226" y1="467.6" x2="233.8" y2="467.6" stroke="#ED7D31" stroke-width="1.4"/>
<text x="234.4" y="469.90" font-size="6.6" font-weight="bold" textLength="16.80" lengthAdjust="spacingAndGlyphs">Wuhan</text>
<line x1="257" y1="467.6" x2="264.3" y2="467.6" stroke="#A5A5A5" stroke-width="1.4"/>
<text x="265.2" y="469.90" font-size="6.6" font-weight="bold" textLength="20.80" lengthAdjust="spacingAndGlyphs">Jingzhou</text>
<line x1="292" y1="467.6" x2="299.2" y2="467.6" stroke="#FFC000" stroke-width="1.4"/>
<text x="299.8" y="469.90" font-size="6.6" font-weight="bold" textLength="22.10" lengthAdjust="spacingAndGlyphs">Huangshi</text>
<text x="430.6" y="373.0" text-anchor="middle" font-family="'Liberation Serif', 'Times New Roman', serif" font-size="13.2" font-weight="bold" stroke="none" stroke-width="0.22">(g)</text>
</svg></body></html>
